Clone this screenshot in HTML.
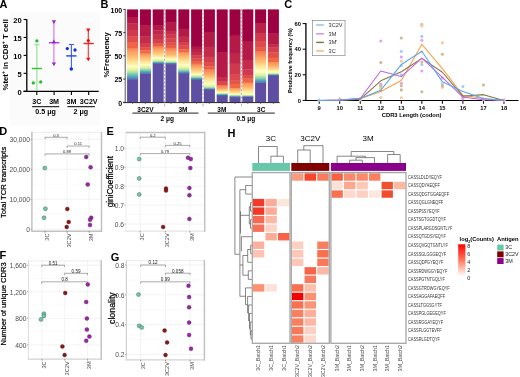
<!DOCTYPE html>
<html><head><meta charset="utf-8"><style>
html,body{margin:0;padding:0;background:#fff;overflow:hidden;width:520px;height:377px;}
svg{display:block;font-family:"Liberation Sans", sans-serif;will-change:transform;}
</style></head><body>
<svg width="520" height="377" viewBox="0 0 520 377">
<rect width="520" height="377" fill="#fff"/>
<rect x="9.70" y="12.00" width="90.20" height="113.60" fill="#fbfbfb"/>
<text x="-0.50" y="8.00" font-size="11" text-anchor="start" font-weight="bold" fill="#000">A</text>
<text x="100.50" y="8.30" font-size="11" text-anchor="start" font-weight="bold" fill="#000">B</text>
<text x="284.30" y="8.30" font-size="11" text-anchor="start" font-weight="bold" fill="#000">C</text>
<text x="-0.80" y="135.30" font-size="11" text-anchor="start" font-weight="bold" fill="#000">D</text>
<text x="106.60" y="135.40" font-size="11" text-anchor="start" font-weight="bold" fill="#000">E</text>
<text x="227.60" y="136.70" font-size="11" text-anchor="start" font-weight="bold" fill="#000">H</text>
<text x="-0.50" y="259.00" font-size="11" text-anchor="start" font-weight="bold" fill="#000">F</text>
<text x="110.80" y="261.20" font-size="11" text-anchor="start" font-weight="bold" fill="#000">G</text>
<line x1="26.80" y1="19.30" x2="26.80" y2="91.80" stroke="#000" stroke-width="1.3"/>
<line x1="23.50" y1="91.40" x2="98.70" y2="91.40" stroke="#000" stroke-width="1.3"/>
<line x1="23.60" y1="91.30" x2="26.80" y2="91.30" stroke="#000" stroke-width="1.1"/>
<text x="21.80" y="94.50" font-size="7.6" text-anchor="end" font-weight="bold" fill="#000">0</text>
<line x1="23.60" y1="73.35" x2="26.80" y2="73.35" stroke="#000" stroke-width="1.1"/>
<text x="21.80" y="76.55" font-size="7.6" text-anchor="end" font-weight="bold" fill="#000">5</text>
<line x1="23.60" y1="55.40" x2="26.80" y2="55.40" stroke="#000" stroke-width="1.1"/>
<text x="21.80" y="58.60" font-size="7.6" text-anchor="end" font-weight="bold" fill="#000">10</text>
<line x1="23.60" y1="37.45" x2="26.80" y2="37.45" stroke="#000" stroke-width="1.1"/>
<text x="21.80" y="40.65" font-size="7.6" text-anchor="end" font-weight="bold" fill="#000">15</text>
<line x1="23.60" y1="19.50" x2="26.80" y2="19.50" stroke="#000" stroke-width="1.1"/>
<text x="21.80" y="22.70" font-size="7.6" text-anchor="end" font-weight="bold" fill="#000">20</text>
<line x1="36.80" y1="91.40" x2="36.80" y2="95.00" stroke="#000" stroke-width="1.1"/>
<line x1="54.10" y1="91.40" x2="54.10" y2="95.00" stroke="#000" stroke-width="1.1"/>
<line x1="71.40" y1="91.40" x2="71.40" y2="95.00" stroke="#000" stroke-width="1.1"/>
<line x1="88.70" y1="91.40" x2="88.70" y2="95.00" stroke="#000" stroke-width="1.1"/>
<text x="36.80" y="103.80" font-size="7.1" text-anchor="middle" font-weight="bold" fill="#000">3C</text>
<text x="54.10" y="103.80" font-size="7.1" text-anchor="middle" font-weight="bold" fill="#000">3M</text>
<text x="71.40" y="103.80" font-size="7.1" text-anchor="middle" font-weight="bold" fill="#000">3M</text>
<text x="88.70" y="103.80" font-size="7.1" text-anchor="middle" font-weight="bold" fill="#000">3C2V</text>
<line x1="32.10" y1="106.70" x2="59.20" y2="106.70" stroke="#000" stroke-width="1.0"/>
<line x1="67.40" y1="106.70" x2="94.90" y2="106.70" stroke="#000" stroke-width="1.0"/>
<text x="45.60" y="114.40" font-size="7.1" text-anchor="middle" font-weight="bold" fill="#000">0.5 μg</text>
<text x="80.80" y="114.40" font-size="7.1" text-anchor="middle" font-weight="bold" fill="#000">2 μg</text>
<text transform="translate(7.6 54.8) rotate(-90)" font-size="7.8" font-weight="bold" text-anchor="middle">%tet<tspan font-size="5.2" dy="-2.6">+</tspan><tspan dy="2.6"> in CD8</tspan><tspan font-size="5.2" dy="-2.6">+</tspan><tspan dy="2.6"> T cell</tspan></text>
<line x1="36.90" y1="44.70" x2="36.90" y2="91.00" stroke="#90e090" stroke-width="1.1"/>
<line x1="34.30" y1="44.70" x2="39.60" y2="44.70" stroke="#90e090" stroke-width="1.1"/>
<line x1="31.80" y1="68.50" x2="41.90" y2="68.50" stroke="#30c030" stroke-width="1.4"/>
<circle cx="36.90" cy="40.90" r="1.65" fill="#20c020" stroke="none" stroke-width="0"/>
<circle cx="33.30" cy="82.90" r="1.65" fill="#20c020" stroke="none" stroke-width="0"/>
<circle cx="40.70" cy="81.90" r="1.65" fill="#20c020" stroke="none" stroke-width="0"/>
<line x1="53.90" y1="21.80" x2="53.90" y2="64.30" stroke="#c870f0" stroke-width="1.1"/>
<line x1="49.00" y1="42.70" x2="59.40" y2="42.70" stroke="#b040e0" stroke-width="1.4"/>
<polygon points="51.73,20.26 56.07,20.26 53.90,23.96" fill="#a020d0"/>
<polygon points="51.73,43.14 56.07,43.14 53.90,39.44" fill="#a020d0"/>
<polygon points="51.73,62.46 56.07,62.46 53.90,66.16" fill="#a020d0"/>
<line x1="71.40" y1="44.50" x2="71.40" y2="69.00" stroke="#4060f0" stroke-width="1.1"/>
<line x1="68.80" y1="44.50" x2="74.10" y2="44.50" stroke="#4060f0" stroke-width="1.1"/>
<line x1="66.20" y1="55.90" x2="76.50" y2="55.90" stroke="#2040e0" stroke-width="1.4"/>
<circle cx="67.30" cy="48.60" r="1.65" fill="#1030e0" stroke="none" stroke-width="0"/>
<circle cx="75.00" cy="50.00" r="1.65" fill="#1030e0" stroke="none" stroke-width="0"/>
<circle cx="71.30" cy="69.00" r="1.75" fill="#1030e0" stroke="none" stroke-width="0"/>
<line x1="88.30" y1="30.30" x2="88.30" y2="59.40" stroke="#f03030" stroke-width="1.1"/>
<line x1="83.60" y1="43.50" x2="93.80" y2="43.50" stroke="#f02020" stroke-width="1.4"/>
<polygon points="86.12,28.56 90.47,28.56 88.30,32.26" fill="#f01010"/>
<circle cx="88.30" cy="40.60" r="1.65" fill="#f01010" stroke="none" stroke-width="0"/>
<polygon points="86.12,57.66 90.47,57.66 88.30,61.36" fill="#f01010"/>
<rect x="127.10" y="9.40" width="11.00" height="7.95" fill="#9e0142"/>
<rect x="127.10" y="17.00" width="11.00" height="6.75" fill="#b41947"/>
<rect x="127.10" y="23.40" width="11.00" height="6.75" fill="#c42c4b"/>
<rect x="127.10" y="29.80" width="11.00" height="6.65" fill="#d0384e"/>
<rect x="127.10" y="36.10" width="11.00" height="6.25" fill="#de4c4b"/>
<rect x="127.10" y="42.00" width="11.00" height="6.55" fill="#ee6445"/>
<rect x="127.10" y="48.20" width="11.00" height="0.82" fill="#f67c4a"/>
<rect x="127.10" y="48.73" width="11.00" height="0.82" fill="#f77f4c"/>
<rect x="127.10" y="49.25" width="11.00" height="0.82" fill="#f7834d"/>
<rect x="127.10" y="49.77" width="11.00" height="0.82" fill="#f8874f"/>
<rect x="127.10" y="50.30" width="11.00" height="0.83" fill="#f88a51"/>
<rect x="127.10" y="50.83" width="11.00" height="0.82" fill="#f98e52"/>
<rect x="127.10" y="51.35" width="11.00" height="0.82" fill="#f99254"/>
<rect x="127.10" y="51.88" width="11.00" height="0.82" fill="#fa9556"/>
<rect x="127.10" y="52.40" width="11.00" height="0.84" fill="#fb9c59"/>
<rect x="127.10" y="52.94" width="11.00" height="0.84" fill="#fba05b"/>
<rect x="127.10" y="53.48" width="11.00" height="0.84" fill="#fca45c"/>
<rect x="127.10" y="54.01" width="11.00" height="0.84" fill="#fca75e"/>
<rect x="127.10" y="54.55" width="11.00" height="0.84" fill="#fdab60"/>
<rect x="127.10" y="55.09" width="11.00" height="0.84" fill="#fdae61"/>
<rect x="127.10" y="55.62" width="11.00" height="0.84" fill="#fdb164"/>
<rect x="127.10" y="56.16" width="11.00" height="0.84" fill="#fdb466"/>
<rect x="127.10" y="56.70" width="11.00" height="0.82" fill="#fdba6b"/>
<rect x="127.10" y="57.23" width="11.00" height="0.82" fill="#fdbd6e"/>
<rect x="127.10" y="57.75" width="11.00" height="0.82" fill="#fdc070"/>
<rect x="127.10" y="58.27" width="11.00" height="0.82" fill="#fdc473"/>
<rect x="127.10" y="58.80" width="11.00" height="0.83" fill="#fec776"/>
<rect x="127.10" y="59.33" width="11.00" height="0.82" fill="#fecb79"/>
<rect x="127.10" y="59.85" width="11.00" height="0.82" fill="#fece7c"/>
<rect x="127.10" y="60.38" width="11.00" height="0.82" fill="#fed17f"/>
<rect x="127.10" y="60.90" width="11.00" height="0.84" fill="#fed985"/>
<rect x="127.10" y="61.44" width="11.00" height="0.84" fill="#fede89"/>
<rect x="127.10" y="61.98" width="11.00" height="0.84" fill="#fee28e"/>
<rect x="127.10" y="62.51" width="11.00" height="0.84" fill="#fee593"/>
<rect x="127.10" y="63.05" width="11.00" height="0.84" fill="#fee898"/>
<rect x="127.10" y="63.59" width="11.00" height="0.84" fill="#feeb9e"/>
<rect x="127.10" y="64.12" width="11.00" height="0.84" fill="#feeea3"/>
<rect x="127.10" y="64.66" width="11.00" height="0.84" fill="#fff1a8"/>
<rect x="127.10" y="65.20" width="11.00" height="0.82" fill="#fff8b3"/>
<rect x="127.10" y="65.72" width="11.00" height="0.82" fill="#fffdbb"/>
<rect x="127.10" y="66.23" width="11.00" height="0.82" fill="#fdfebc"/>
<rect x="127.10" y="66.75" width="11.00" height="0.82" fill="#f9fdb6"/>
<rect x="127.10" y="67.27" width="11.00" height="0.82" fill="#f6fbb0"/>
<rect x="127.10" y="67.78" width="11.00" height="0.82" fill="#f2faab"/>
<rect x="127.10" y="68.30" width="11.00" height="0.84" fill="#ebf7a1"/>
<rect x="127.10" y="68.84" width="11.00" height="0.84" fill="#e7f69a"/>
<rect x="127.10" y="69.38" width="11.00" height="0.84" fill="#e0f299"/>
<rect x="127.10" y="69.92" width="11.00" height="0.84" fill="#d6ef9b"/>
<rect x="127.10" y="70.46" width="11.00" height="0.84" fill="#cdeb9d"/>
<rect x="127.10" y="71.00" width="11.00" height="0.82" fill="#bde4a0"/>
<rect x="127.10" y="71.52" width="11.00" height="0.82" fill="#b3e0a2"/>
<rect x="127.10" y="72.04" width="11.00" height="0.82" fill="#a8dca4"/>
<rect x="127.10" y="72.56" width="11.00" height="0.82" fill="#9bd7a4"/>
<rect x="127.10" y="73.08" width="11.00" height="0.82" fill="#8fd2a4"/>
<rect x="127.10" y="73.60" width="11.00" height="0.84" fill="#7bcaa5"/>
<rect x="127.10" y="74.14" width="11.00" height="0.84" fill="#6fc6a5"/>
<rect x="127.10" y="74.68" width="11.00" height="0.84" fill="#63bfa6"/>
<rect x="127.10" y="75.22" width="11.00" height="0.84" fill="#5ab5ab"/>
<rect x="127.10" y="75.76" width="11.00" height="0.84" fill="#51aaaf"/>
<rect x="127.10" y="76.30" width="11.00" height="0.83" fill="#449db4"/>
<rect x="127.10" y="76.83" width="11.00" height="0.82" fill="#4097b7"/>
<rect x="127.10" y="77.35" width="11.00" height="0.83" fill="#3b92b9"/>
<rect x="127.10" y="77.88" width="11.00" height="0.83" fill="#368dbb"/>
<rect x="127.10" y="78.40" width="11.00" height="1.10" fill="#466eb1"/>
<rect x="127.10" y="79.20" width="11.00" height="23.10" fill="#5e4fa2"/>
<rect x="139.90" y="9.40" width="11.00" height="16.45" fill="#9e0142"/>
<rect x="139.90" y="25.50" width="11.00" height="10.95" fill="#b41947"/>
<rect x="139.90" y="36.10" width="11.00" height="7.25" fill="#c42c4b"/>
<rect x="139.90" y="43.00" width="11.00" height="4.45" fill="#d53e4f"/>
<rect x="139.90" y="47.10" width="11.00" height="3.55" fill="#e1514a"/>
<rect x="139.90" y="50.30" width="11.00" height="3.55" fill="#f16844"/>
<rect x="139.90" y="53.50" width="11.00" height="0.83" fill="#f88a50"/>
<rect x="139.90" y="54.03" width="11.00" height="0.83" fill="#f99053"/>
<rect x="139.90" y="54.57" width="11.00" height="0.83" fill="#fa9656"/>
<rect x="139.90" y="55.10" width="11.00" height="0.83" fill="#fa9b58"/>
<rect x="139.90" y="55.63" width="11.00" height="0.83" fill="#fba15b"/>
<rect x="139.90" y="56.17" width="11.00" height="0.83" fill="#fca75e"/>
<rect x="139.90" y="56.70" width="11.00" height="0.82" fill="#fdb063"/>
<rect x="139.90" y="57.23" width="11.00" height="0.82" fill="#fdb567"/>
<rect x="139.90" y="57.75" width="11.00" height="0.82" fill="#fdb96a"/>
<rect x="139.90" y="58.27" width="11.00" height="0.82" fill="#fdbe6e"/>
<rect x="139.90" y="58.80" width="11.00" height="0.83" fill="#fdc272"/>
<rect x="139.90" y="59.33" width="11.00" height="0.82" fill="#fdc776"/>
<rect x="139.90" y="59.85" width="11.00" height="0.82" fill="#fecb7a"/>
<rect x="139.90" y="60.38" width="11.00" height="0.82" fill="#fed07d"/>
<rect x="139.90" y="60.90" width="11.00" height="0.83" fill="#feda86"/>
<rect x="139.90" y="61.43" width="11.00" height="0.83" fill="#fee18c"/>
<rect x="139.90" y="61.97" width="11.00" height="0.83" fill="#fee594"/>
<rect x="139.90" y="62.50" width="11.00" height="0.83" fill="#feea9c"/>
<rect x="139.90" y="63.03" width="11.00" height="0.83" fill="#feefa4"/>
<rect x="139.90" y="63.57" width="11.00" height="0.83" fill="#fff3ac"/>
<rect x="139.90" y="64.10" width="11.00" height="0.84" fill="#fffcba"/>
<rect x="139.90" y="64.64" width="11.00" height="0.84" fill="#fcfeba"/>
<rect x="139.90" y="65.18" width="11.00" height="0.84" fill="#f6fcb2"/>
<rect x="139.90" y="65.72" width="11.00" height="0.84" fill="#f1f9a9"/>
<rect x="139.90" y="66.26" width="11.00" height="0.84" fill="#ecf7a1"/>
<rect x="139.90" y="66.80" width="11.00" height="0.83" fill="#dff299"/>
<rect x="139.90" y="67.33" width="11.00" height="0.82" fill="#d2ed9c"/>
<rect x="139.90" y="67.85" width="11.00" height="0.83" fill="#c5e89f"/>
<rect x="139.90" y="68.38" width="11.00" height="0.83" fill="#b8e2a1"/>
<rect x="139.90" y="68.90" width="11.00" height="0.83" fill="#a2d9a4"/>
<rect x="139.90" y="69.43" width="11.00" height="0.82" fill="#8fd2a4"/>
<rect x="139.90" y="69.95" width="11.00" height="0.82" fill="#7ccba5"/>
<rect x="139.90" y="70.47" width="11.00" height="0.83" fill="#6ac3a5"/>
<rect x="139.90" y="71.00" width="11.00" height="0.90" fill="#55afad"/>
<rect x="139.90" y="71.60" width="11.00" height="0.90" fill="#49a2b2"/>
<rect x="139.90" y="72.20" width="11.00" height="0.90" fill="#3c94b8"/>
<rect x="139.90" y="72.80" width="11.00" height="0.90" fill="#3c7bb7"/>
<rect x="139.90" y="73.40" width="11.00" height="0.90" fill="#5062ab"/>
<rect x="139.90" y="74.00" width="11.00" height="28.30" fill="#5e4fa2"/>
<rect x="152.70" y="9.40" width="11.00" height="15.95" fill="#9e0142"/>
<rect x="152.70" y="25.00" width="11.00" height="5.65" fill="#b41947"/>
<rect x="152.70" y="30.30" width="11.00" height="4.55" fill="#bf264a"/>
<rect x="152.70" y="34.50" width="11.00" height="4.65" fill="#ca324c"/>
<rect x="152.70" y="38.80" width="11.00" height="4.55" fill="#d53e4f"/>
<rect x="152.70" y="43.00" width="11.00" height="3.55" fill="#e85a48"/>
<rect x="152.70" y="46.20" width="11.00" height="0.80" fill="#f57145"/>
<rect x="152.70" y="46.70" width="11.00" height="0.80" fill="#f67848"/>
<rect x="152.70" y="47.20" width="11.00" height="0.80" fill="#f77f4b"/>
<rect x="152.70" y="47.70" width="11.00" height="0.80" fill="#f8874f"/>
<rect x="152.70" y="48.20" width="11.00" height="0.83" fill="#f99053"/>
<rect x="152.70" y="48.73" width="11.00" height="0.83" fill="#fa9555"/>
<rect x="152.70" y="49.27" width="11.00" height="0.83" fill="#fa9a58"/>
<rect x="152.70" y="49.80" width="11.00" height="0.83" fill="#fb9f5a"/>
<rect x="152.70" y="50.33" width="11.00" height="0.83" fill="#fca35c"/>
<rect x="152.70" y="50.87" width="11.00" height="0.83" fill="#fca85e"/>
<rect x="152.70" y="51.40" width="11.00" height="0.82" fill="#fdb163"/>
<rect x="152.70" y="51.92" width="11.00" height="0.82" fill="#fdb668"/>
<rect x="152.70" y="52.43" width="11.00" height="0.82" fill="#fdbb6c"/>
<rect x="152.70" y="52.95" width="11.00" height="0.82" fill="#fdc070"/>
<rect x="152.70" y="53.47" width="11.00" height="0.82" fill="#fdc675"/>
<rect x="152.70" y="53.98" width="11.00" height="0.82" fill="#fecb79"/>
<rect x="152.70" y="54.50" width="11.00" height="0.84" fill="#fed682"/>
<rect x="152.70" y="55.04" width="11.00" height="0.84" fill="#fede8a"/>
<rect x="152.70" y="55.58" width="11.00" height="0.84" fill="#fee593"/>
<rect x="152.70" y="56.12" width="11.00" height="0.84" fill="#feea9c"/>
<rect x="152.70" y="56.66" width="11.00" height="0.84" fill="#fff0a6"/>
<rect x="152.70" y="57.20" width="11.00" height="0.84" fill="#fff9b5"/>
<rect x="152.70" y="57.74" width="11.00" height="0.84" fill="#fefebd"/>
<rect x="152.70" y="58.28" width="11.00" height="0.84" fill="#f8fcb4"/>
<rect x="152.70" y="58.82" width="11.00" height="0.84" fill="#f2faab"/>
<rect x="152.70" y="59.36" width="11.00" height="0.84" fill="#ecf7a2"/>
<rect x="152.70" y="59.90" width="11.00" height="0.80" fill="#ddf19a"/>
<rect x="152.70" y="60.40" width="11.00" height="0.80" fill="#cbea9d"/>
<rect x="152.70" y="60.90" width="11.00" height="0.80" fill="#bae3a1"/>
<rect x="152.70" y="61.40" width="11.00" height="0.85" fill="#92d3a4"/>
<rect x="152.70" y="61.95" width="11.00" height="0.85" fill="#62bda7"/>
<rect x="152.70" y="62.50" width="11.00" height="0.95" fill="#368dbb"/>
<rect x="152.70" y="63.15" width="11.00" height="0.95" fill="#4a69ae"/>
<rect x="152.70" y="63.80" width="11.00" height="38.50" fill="#5e4fa2"/>
<rect x="165.50" y="9.40" width="11.00" height="12.75" fill="#9e0142"/>
<rect x="165.50" y="21.80" width="11.00" height="9.35" fill="#b41947"/>
<rect x="165.50" y="30.80" width="11.00" height="4.05" fill="#c42c4b"/>
<rect x="165.50" y="34.50" width="11.00" height="4.05" fill="#d0384e"/>
<rect x="165.50" y="38.20" width="11.00" height="4.65" fill="#d8434e"/>
<rect x="165.50" y="42.50" width="11.00" height="2.95" fill="#e1514a"/>
<rect x="165.50" y="45.10" width="11.00" height="2.95" fill="#e85a48"/>
<rect x="165.50" y="47.70" width="11.00" height="0.82" fill="#f46f44"/>
<rect x="165.50" y="48.22" width="11.00" height="0.82" fill="#f57446"/>
<rect x="165.50" y="48.73" width="11.00" height="0.82" fill="#f67949"/>
<rect x="165.50" y="49.25" width="11.00" height="0.82" fill="#f67e4b"/>
<rect x="165.50" y="49.77" width="11.00" height="0.82" fill="#f7834d"/>
<rect x="165.50" y="50.28" width="11.00" height="0.82" fill="#f8884f"/>
<rect x="165.50" y="50.80" width="11.00" height="0.83" fill="#f99053"/>
<rect x="165.50" y="51.33" width="11.00" height="0.83" fill="#fa9555"/>
<rect x="165.50" y="51.87" width="11.00" height="0.83" fill="#fa9a58"/>
<rect x="165.50" y="52.40" width="11.00" height="0.83" fill="#fb9f5a"/>
<rect x="165.50" y="52.93" width="11.00" height="0.83" fill="#fca35c"/>
<rect x="165.50" y="53.47" width="11.00" height="0.83" fill="#fca85e"/>
<rect x="165.50" y="54.00" width="11.00" height="0.84" fill="#fdb164"/>
<rect x="165.50" y="54.54" width="11.00" height="0.84" fill="#fdb769"/>
<rect x="165.50" y="55.08" width="11.00" height="0.84" fill="#fdbe6e"/>
<rect x="165.50" y="55.62" width="11.00" height="0.84" fill="#fdc474"/>
<rect x="165.50" y="56.16" width="11.00" height="0.84" fill="#feca79"/>
<rect x="165.50" y="56.70" width="11.00" height="0.82" fill="#fed783"/>
<rect x="165.50" y="57.23" width="11.00" height="0.82" fill="#fee18d"/>
<rect x="165.50" y="57.75" width="11.00" height="0.82" fill="#fee899"/>
<rect x="165.50" y="58.27" width="11.00" height="0.82" fill="#feefa4"/>
<rect x="165.50" y="58.80" width="11.00" height="0.82" fill="#fffab7"/>
<rect x="165.50" y="59.32" width="11.00" height="0.82" fill="#fcfeba"/>
<rect x="165.50" y="59.85" width="11.00" height="0.83" fill="#f4fbae"/>
<rect x="165.50" y="60.38" width="11.00" height="0.82" fill="#edf8a3"/>
<rect x="165.50" y="60.90" width="11.00" height="0.95" fill="#d9f09b"/>
<rect x="165.50" y="61.55" width="11.00" height="0.95" fill="#bee5a0"/>
<rect x="165.50" y="62.20" width="11.00" height="1.10" fill="#79caa5"/>
<rect x="165.50" y="63.00" width="11.00" height="0.85" fill="#368dbb"/>
<rect x="165.50" y="63.55" width="11.00" height="0.85" fill="#4a69ae"/>
<rect x="165.50" y="64.10" width="11.00" height="38.20" fill="#5e4fa2"/>
<rect x="178.30" y="9.40" width="11.00" height="19.65" fill="#9e0142"/>
<rect x="178.30" y="28.70" width="11.00" height="8.25" fill="#b41947"/>
<rect x="178.30" y="36.60" width="11.00" height="5.75" fill="#c42c4b"/>
<rect x="178.30" y="42.00" width="11.00" height="3.45" fill="#d53e4f"/>
<rect x="178.30" y="45.10" width="11.00" height="4.45" fill="#de4c4b"/>
<rect x="178.30" y="49.20" width="11.00" height="3.55" fill="#f16844"/>
<rect x="178.30" y="52.40" width="11.00" height="0.83" fill="#f88a50"/>
<rect x="178.30" y="52.93" width="11.00" height="0.83" fill="#f99053"/>
<rect x="178.30" y="53.47" width="11.00" height="0.83" fill="#fa9656"/>
<rect x="178.30" y="54.00" width="11.00" height="0.83" fill="#fa9b58"/>
<rect x="178.30" y="54.53" width="11.00" height="0.83" fill="#fba15b"/>
<rect x="178.30" y="55.07" width="11.00" height="0.83" fill="#fca75e"/>
<rect x="178.30" y="55.60" width="11.00" height="0.84" fill="#fdb063"/>
<rect x="178.30" y="56.14" width="11.00" height="0.84" fill="#fdb567"/>
<rect x="178.30" y="56.67" width="11.00" height="0.84" fill="#fdb96a"/>
<rect x="178.30" y="57.21" width="11.00" height="0.84" fill="#fdbe6e"/>
<rect x="178.30" y="57.75" width="11.00" height="0.84" fill="#fdc272"/>
<rect x="178.30" y="58.29" width="11.00" height="0.84" fill="#fdc776"/>
<rect x="178.30" y="58.83" width="11.00" height="0.84" fill="#fecb7a"/>
<rect x="178.30" y="59.36" width="11.00" height="0.84" fill="#fed07d"/>
<rect x="178.30" y="59.90" width="11.00" height="0.82" fill="#fed985"/>
<rect x="178.30" y="60.42" width="11.00" height="0.82" fill="#fede8a"/>
<rect x="178.30" y="60.95" width="11.00" height="0.82" fill="#fee38f"/>
<rect x="178.30" y="61.47" width="11.00" height="0.83" fill="#fee695"/>
<rect x="178.30" y="62.00" width="11.00" height="0.82" fill="#fee99b"/>
<rect x="178.30" y="62.52" width="11.00" height="0.82" fill="#feeda1"/>
<rect x="178.30" y="63.05" width="11.00" height="0.82" fill="#fff0a7"/>
<rect x="178.30" y="63.57" width="11.00" height="0.82" fill="#fff4ac"/>
<rect x="178.30" y="64.10" width="11.00" height="0.83" fill="#fffcb9"/>
<rect x="178.30" y="64.63" width="11.00" height="0.83" fill="#fdfebc"/>
<rect x="178.30" y="65.17" width="11.00" height="0.83" fill="#f9fcb5"/>
<rect x="178.30" y="65.70" width="11.00" height="0.83" fill="#f4fbae"/>
<rect x="178.30" y="66.23" width="11.00" height="0.83" fill="#f0f9a7"/>
<rect x="178.30" y="66.77" width="11.00" height="0.83" fill="#ebf7a0"/>
<rect x="178.30" y="67.30" width="11.00" height="0.88" fill="#dff299"/>
<rect x="178.30" y="67.88" width="11.00" height="0.87" fill="#d2ed9c"/>
<rect x="178.30" y="68.45" width="11.00" height="0.88" fill="#c5e89f"/>
<rect x="178.30" y="69.02" width="11.00" height="0.88" fill="#b8e2a1"/>
<rect x="178.30" y="69.60" width="11.00" height="0.87" fill="#9fd8a4"/>
<rect x="178.30" y="70.17" width="11.00" height="0.87" fill="#86cea5"/>
<rect x="178.30" y="70.73" width="11.00" height="0.87" fill="#6dc5a5"/>
<rect x="178.30" y="71.30" width="11.00" height="0.85" fill="#52acae"/>
<rect x="178.30" y="71.85" width="11.00" height="0.85" fill="#4097b7"/>
<rect x="178.30" y="72.40" width="11.00" height="0.80" fill="#3c7bb7"/>
<rect x="178.30" y="72.90" width="11.00" height="0.80" fill="#5062ab"/>
<rect x="178.30" y="73.40" width="11.00" height="28.90" fill="#5e4fa2"/>
<rect x="191.10" y="9.40" width="11.00" height="37.55" fill="#9e0142"/>
<rect x="191.10" y="46.60" width="11.00" height="2.45" fill="#ae1346"/>
<rect x="191.10" y="48.70" width="11.00" height="3.55" fill="#ba2048"/>
<rect x="191.10" y="51.90" width="11.00" height="3.55" fill="#c42c4b"/>
<rect x="191.10" y="55.10" width="11.00" height="3.55" fill="#d53e4f"/>
<rect x="191.10" y="58.30" width="11.00" height="2.95" fill="#de4c4b"/>
<rect x="191.10" y="60.90" width="11.00" height="3.05" fill="#eb5f47"/>
<rect x="191.10" y="63.60" width="11.00" height="0.82" fill="#f57647"/>
<rect x="191.10" y="64.12" width="11.00" height="0.82" fill="#f67c4a"/>
<rect x="191.10" y="64.64" width="11.00" height="0.82" fill="#f7824d"/>
<rect x="191.10" y="65.16" width="11.00" height="0.82" fill="#f8884f"/>
<rect x="191.10" y="65.68" width="11.00" height="0.82" fill="#f98e52"/>
<rect x="191.10" y="66.20" width="11.00" height="0.84" fill="#fa9857"/>
<rect x="191.10" y="66.74" width="11.00" height="0.84" fill="#fb9f5a"/>
<rect x="191.10" y="67.28" width="11.00" height="0.84" fill="#fca65d"/>
<rect x="191.10" y="67.82" width="11.00" height="0.84" fill="#fdad60"/>
<rect x="191.10" y="68.36" width="11.00" height="0.84" fill="#fdb265"/>
<rect x="191.10" y="68.90" width="11.00" height="0.82" fill="#fdbb6c"/>
<rect x="191.10" y="69.42" width="11.00" height="0.82" fill="#fdc070"/>
<rect x="191.10" y="69.94" width="11.00" height="0.82" fill="#fdc675"/>
<rect x="191.10" y="70.46" width="11.00" height="0.82" fill="#fecb79"/>
<rect x="191.10" y="70.98" width="11.00" height="0.82" fill="#fed07e"/>
<rect x="191.10" y="71.50" width="11.00" height="0.90" fill="#fedb87"/>
<rect x="191.10" y="72.10" width="11.00" height="0.90" fill="#fee390"/>
<rect x="191.10" y="72.70" width="11.00" height="0.90" fill="#fee99b"/>
<rect x="191.10" y="73.30" width="11.00" height="0.90" fill="#fff0a5"/>
<rect x="191.10" y="73.90" width="11.00" height="0.93" fill="#fffdbb"/>
<rect x="191.10" y="74.53" width="11.00" height="0.93" fill="#f6fbb0"/>
<rect x="191.10" y="75.17" width="11.00" height="0.93" fill="#eaf79f"/>
<rect x="191.10" y="75.80" width="11.00" height="0.83" fill="#ceeb9d"/>
<rect x="191.10" y="76.33" width="11.00" height="0.83" fill="#b5e1a2"/>
<rect x="191.10" y="76.87" width="11.00" height="0.83" fill="#9ad6a4"/>
<rect x="191.10" y="77.40" width="11.00" height="0.95" fill="#71c6a5"/>
<rect x="191.10" y="78.05" width="11.00" height="0.95" fill="#54aead"/>
<rect x="191.10" y="78.70" width="11.00" height="0.85" fill="#3288bd"/>
<rect x="191.10" y="79.25" width="11.00" height="0.85" fill="#4b67ad"/>
<rect x="191.10" y="79.80" width="11.00" height="22.50" fill="#5e4fa2"/>
<rect x="203.90" y="9.40" width="11.00" height="22.85" fill="#9e0142"/>
<rect x="203.90" y="31.90" width="11.00" height="15.15" fill="#b41947"/>
<rect x="203.90" y="46.70" width="11.00" height="10.35" fill="#c42c4b"/>
<rect x="203.90" y="56.70" width="11.00" height="5.65" fill="#d53e4f"/>
<rect x="203.90" y="62.00" width="11.00" height="4.55" fill="#de4c4b"/>
<rect x="203.90" y="66.20" width="11.00" height="3.55" fill="#eb5f47"/>
<rect x="203.90" y="69.40" width="11.00" height="0.83" fill="#f57647"/>
<rect x="203.90" y="69.93" width="11.00" height="0.83" fill="#f67b49"/>
<rect x="203.90" y="70.47" width="11.00" height="0.83" fill="#f7804c"/>
<rect x="203.90" y="71.00" width="11.00" height="0.83" fill="#f7854e"/>
<rect x="203.90" y="71.53" width="11.00" height="0.83" fill="#f88950"/>
<rect x="203.90" y="72.07" width="11.00" height="0.83" fill="#f98e52"/>
<rect x="203.90" y="72.60" width="11.00" height="0.83" fill="#fa9656"/>
<rect x="203.90" y="73.13" width="11.00" height="0.83" fill="#fa9a58"/>
<rect x="203.90" y="73.67" width="11.00" height="0.83" fill="#fb9e5a"/>
<rect x="203.90" y="74.20" width="11.00" height="0.83" fill="#fba25b"/>
<rect x="203.90" y="74.73" width="11.00" height="0.83" fill="#fca65d"/>
<rect x="203.90" y="75.27" width="11.00" height="0.83" fill="#fca95f"/>
<rect x="203.90" y="75.80" width="11.00" height="0.84" fill="#fdb264"/>
<rect x="203.90" y="76.34" width="11.00" height="0.84" fill="#fdb96a"/>
<rect x="203.90" y="76.88" width="11.00" height="0.84" fill="#fdc070"/>
<rect x="203.90" y="77.42" width="11.00" height="0.84" fill="#fec776"/>
<rect x="203.90" y="77.96" width="11.00" height="0.84" fill="#fece7c"/>
<rect x="203.90" y="78.50" width="11.00" height="0.86" fill="#fed985"/>
<rect x="203.90" y="79.06" width="11.00" height="0.86" fill="#fedf8a"/>
<rect x="203.90" y="79.61" width="11.00" height="0.86" fill="#fee390"/>
<rect x="203.90" y="80.17" width="11.00" height="0.86" fill="#fee696"/>
<rect x="203.90" y="80.73" width="11.00" height="0.86" fill="#feea9c"/>
<rect x="203.90" y="81.29" width="11.00" height="0.86" fill="#feeea2"/>
<rect x="203.90" y="81.84" width="11.00" height="0.86" fill="#fff1a8"/>
<rect x="203.90" y="82.40" width="11.00" height="0.87" fill="#fff9b4"/>
<rect x="203.90" y="82.97" width="11.00" height="0.87" fill="#ffffbf"/>
<rect x="203.90" y="83.53" width="11.00" height="0.87" fill="#fafdb8"/>
<rect x="203.90" y="84.10" width="11.00" height="0.87" fill="#f5fbb0"/>
<rect x="203.90" y="84.67" width="11.00" height="0.87" fill="#f1f9a8"/>
<rect x="203.90" y="85.23" width="11.00" height="0.87" fill="#ecf7a1"/>
<rect x="203.90" y="85.80" width="11.00" height="0.90" fill="#ddf19a"/>
<rect x="203.90" y="86.40" width="11.00" height="0.90" fill="#cbea9d"/>
<rect x="203.90" y="87.00" width="11.00" height="0.90" fill="#bae3a1"/>
<rect x="203.90" y="87.60" width="11.00" height="1.20" fill="#79caa5"/>
<rect x="203.90" y="88.50" width="11.00" height="0.85" fill="#368dbb"/>
<rect x="203.90" y="89.05" width="11.00" height="0.85" fill="#4a69ae"/>
<rect x="203.90" y="89.60" width="11.00" height="12.70" fill="#5e4fa2"/>
<rect x="216.70" y="9.40" width="11.00" height="42.85" fill="#9e0142"/>
<rect x="216.70" y="51.90" width="11.00" height="25.45" fill="#b41947"/>
<rect x="216.70" y="77.00" width="11.00" height="4.35" fill="#c42c4b"/>
<rect x="216.70" y="81.00" width="11.00" height="4.65" fill="#db474d"/>
<rect x="216.70" y="85.30" width="11.00" height="0.84" fill="#f47145"/>
<rect x="216.70" y="85.84" width="11.00" height="0.84" fill="#f57848"/>
<rect x="216.70" y="86.38" width="11.00" height="0.84" fill="#f67f4b"/>
<rect x="216.70" y="86.92" width="11.00" height="0.84" fill="#f7864e"/>
<rect x="216.70" y="87.46" width="11.00" height="0.84" fill="#f88d52"/>
<rect x="216.70" y="88.00" width="11.00" height="0.84" fill="#fa9a58"/>
<rect x="216.70" y="88.54" width="11.00" height="0.84" fill="#fca75e"/>
<rect x="216.70" y="89.08" width="11.00" height="0.84" fill="#fdb365"/>
<rect x="216.70" y="89.62" width="11.00" height="0.84" fill="#fdbd6d"/>
<rect x="216.70" y="90.16" width="11.00" height="0.84" fill="#fdc776"/>
<rect x="216.70" y="90.70" width="11.00" height="0.88" fill="#fedb87"/>
<rect x="216.70" y="91.28" width="11.00" height="0.87" fill="#feea9b"/>
<rect x="216.70" y="91.85" width="11.00" height="0.88" fill="#fff6b0"/>
<rect x="216.70" y="92.42" width="11.00" height="0.88" fill="#fcfeba"/>
<rect x="216.70" y="93.00" width="11.00" height="0.85" fill="#e5f598"/>
<rect x="216.70" y="93.55" width="11.00" height="0.85" fill="#a7dca4"/>
<rect x="216.70" y="94.10" width="11.00" height="1.20" fill="#54aead"/>
<rect x="216.70" y="95.00" width="11.00" height="1.20" fill="#466eb1"/>
<rect x="216.70" y="95.90" width="11.00" height="6.40" fill="#5e4fa2"/>
<rect x="229.50" y="9.40" width="11.00" height="26.55" fill="#9e0142"/>
<rect x="229.50" y="35.60" width="11.00" height="17.75" fill="#b41947"/>
<rect x="229.50" y="53.00" width="11.00" height="10.95" fill="#bf264a"/>
<rect x="229.50" y="63.60" width="11.00" height="11.25" fill="#d0384e"/>
<rect x="229.50" y="74.50" width="11.00" height="6.35" fill="#db474d"/>
<rect x="229.50" y="80.50" width="11.00" height="3.85" fill="#e45649"/>
<rect x="229.50" y="84.00" width="11.00" height="4.35" fill="#f16844"/>
<rect x="229.50" y="88.00" width="11.00" height="0.84" fill="#f99254"/>
<rect x="229.50" y="88.54" width="11.00" height="0.84" fill="#fa9a58"/>
<rect x="229.50" y="89.08" width="11.00" height="0.84" fill="#fba25b"/>
<rect x="229.50" y="89.62" width="11.00" height="0.84" fill="#fcaa5f"/>
<rect x="229.50" y="90.16" width="11.00" height="0.84" fill="#fdb164"/>
<rect x="229.50" y="90.70" width="11.00" height="0.84" fill="#fdbc6d"/>
<rect x="229.50" y="91.24" width="11.00" height="0.84" fill="#fdc675"/>
<rect x="229.50" y="91.78" width="11.00" height="0.84" fill="#fece7c"/>
<rect x="229.50" y="92.32" width="11.00" height="0.84" fill="#fed884"/>
<rect x="229.50" y="92.86" width="11.00" height="0.84" fill="#fee08c"/>
<rect x="229.50" y="93.40" width="11.00" height="0.80" fill="#feefa3"/>
<rect x="229.50" y="93.90" width="11.00" height="0.80" fill="#ffffbf"/>
<rect x="229.50" y="94.40" width="11.00" height="0.80" fill="#f1faaa"/>
<rect x="229.50" y="94.90" width="11.00" height="0.80" fill="#e1f399"/>
<rect x="229.50" y="95.40" width="11.00" height="1.20" fill="#85cea5"/>
<rect x="229.50" y="96.30" width="11.00" height="1.10" fill="#3f78b5"/>
<rect x="229.50" y="97.10" width="11.00" height="5.20" fill="#5e4fa2"/>
<rect x="242.30" y="9.40" width="11.00" height="31.85" fill="#9e0142"/>
<rect x="242.30" y="40.90" width="11.00" height="19.35" fill="#b41947"/>
<rect x="242.30" y="59.90" width="11.00" height="9.85" fill="#c42c4b"/>
<rect x="242.30" y="69.40" width="11.00" height="5.65" fill="#d0384e"/>
<rect x="242.30" y="74.70" width="11.00" height="4.15" fill="#de4c4b"/>
<rect x="242.30" y="78.50" width="11.00" height="4.45" fill="#ee6445"/>
<rect x="242.30" y="82.60" width="11.00" height="0.80" fill="#f88950"/>
<rect x="242.30" y="83.10" width="11.00" height="0.80" fill="#f98e52"/>
<rect x="242.30" y="83.60" width="11.00" height="0.80" fill="#f99254"/>
<rect x="242.30" y="84.10" width="11.00" height="0.80" fill="#fa9756"/>
<rect x="242.30" y="84.60" width="11.00" height="0.80" fill="#fa9b58"/>
<rect x="242.30" y="85.10" width="11.00" height="0.80" fill="#fba05b"/>
<rect x="242.30" y="85.60" width="11.00" height="0.80" fill="#fca55d"/>
<rect x="242.30" y="86.10" width="11.00" height="0.80" fill="#fca95f"/>
<rect x="242.30" y="86.60" width="11.00" height="0.80" fill="#fdae61"/>
<rect x="242.30" y="87.10" width="11.00" height="0.81" fill="#fdb668"/>
<rect x="242.30" y="87.61" width="11.00" height="0.81" fill="#fdbc6c"/>
<rect x="242.30" y="88.13" width="11.00" height="0.81" fill="#fdc171"/>
<rect x="242.30" y="88.64" width="11.00" height="0.81" fill="#fec776"/>
<rect x="242.30" y="89.16" width="11.00" height="0.81" fill="#fecd7b"/>
<rect x="242.30" y="89.67" width="11.00" height="0.81" fill="#fed380"/>
<rect x="242.30" y="90.19" width="11.00" height="0.81" fill="#fed985"/>
<rect x="242.30" y="90.70" width="11.00" height="0.83" fill="#fee28e"/>
<rect x="242.30" y="91.23" width="11.00" height="0.83" fill="#fee694"/>
<rect x="242.30" y="91.77" width="11.00" height="0.83" fill="#fee99b"/>
<rect x="242.30" y="92.30" width="11.00" height="0.83" fill="#feeda1"/>
<rect x="242.30" y="92.83" width="11.00" height="0.83" fill="#fff1a7"/>
<rect x="242.30" y="93.37" width="11.00" height="0.83" fill="#fff4ad"/>
<rect x="242.30" y="93.90" width="11.00" height="0.90" fill="#fcfeba"/>
<rect x="242.30" y="94.50" width="11.00" height="0.90" fill="#ebf7a0"/>
<rect x="242.30" y="95.10" width="11.00" height="0.90" fill="#cbea9d"/>
<rect x="242.30" y="95.70" width="11.00" height="0.90" fill="#73c7a5"/>
<rect x="242.30" y="96.30" width="11.00" height="1.00" fill="#4175b4"/>
<rect x="242.30" y="97.00" width="11.00" height="5.30" fill="#5e4fa2"/>
<rect x="255.10" y="9.40" width="11.00" height="13.85" fill="#9e0142"/>
<rect x="255.10" y="22.90" width="11.00" height="10.35" fill="#ba2048"/>
<rect x="255.10" y="32.90" width="11.00" height="8.35" fill="#d0384e"/>
<rect x="255.10" y="40.90" width="11.00" height="6.95" fill="#de4c4b"/>
<rect x="255.10" y="47.50" width="11.00" height="4.25" fill="#e85a48"/>
<rect x="255.10" y="51.40" width="11.00" height="0.82" fill="#f46f44"/>
<rect x="255.10" y="51.92" width="11.00" height="0.83" fill="#f57246"/>
<rect x="255.10" y="52.45" width="11.00" height="0.82" fill="#f57647"/>
<rect x="255.10" y="52.98" width="11.00" height="0.82" fill="#f67a49"/>
<rect x="255.10" y="53.50" width="11.00" height="0.82" fill="#f67d4b"/>
<rect x="255.10" y="54.02" width="11.00" height="0.82" fill="#f7814c"/>
<rect x="255.10" y="54.55" width="11.00" height="0.83" fill="#f7854e"/>
<rect x="255.10" y="55.08" width="11.00" height="0.82" fill="#f88850"/>
<rect x="255.10" y="55.60" width="11.00" height="0.84" fill="#f98f53"/>
<rect x="255.10" y="56.14" width="11.00" height="0.84" fill="#f99355"/>
<rect x="255.10" y="56.67" width="11.00" height="0.84" fill="#fa9756"/>
<rect x="255.10" y="57.21" width="11.00" height="0.84" fill="#fa9a58"/>
<rect x="255.10" y="57.75" width="11.00" height="0.84" fill="#fb9e5a"/>
<rect x="255.10" y="58.29" width="11.00" height="0.84" fill="#fba25b"/>
<rect x="255.10" y="58.83" width="11.00" height="0.84" fill="#fca55d"/>
<rect x="255.10" y="59.36" width="11.00" height="0.84" fill="#fca95f"/>
<rect x="255.10" y="59.90" width="11.00" height="0.82" fill="#fdb063"/>
<rect x="255.10" y="60.42" width="11.00" height="0.82" fill="#fdb466"/>
<rect x="255.10" y="60.95" width="11.00" height="0.82" fill="#fdb869"/>
<rect x="255.10" y="61.47" width="11.00" height="0.83" fill="#fdbc6d"/>
<rect x="255.10" y="62.00" width="11.00" height="0.82" fill="#fdc070"/>
<rect x="255.10" y="62.52" width="11.00" height="0.82" fill="#fdc473"/>
<rect x="255.10" y="63.05" width="11.00" height="0.82" fill="#fec876"/>
<rect x="255.10" y="63.57" width="11.00" height="0.82" fill="#fecc7a"/>
<rect x="255.10" y="64.10" width="11.00" height="0.83" fill="#fed380"/>
<rect x="255.10" y="64.62" width="11.00" height="0.82" fill="#fed884"/>
<rect x="255.10" y="65.15" width="11.00" height="0.83" fill="#fedc88"/>
<rect x="255.10" y="65.67" width="11.00" height="0.82" fill="#fee08c"/>
<rect x="255.10" y="66.20" width="11.00" height="0.83" fill="#fee390"/>
<rect x="255.10" y="66.72" width="11.00" height="0.83" fill="#fee695"/>
<rect x="255.10" y="67.25" width="11.00" height="0.82" fill="#fee99a"/>
<rect x="255.10" y="67.77" width="11.00" height="0.83" fill="#feec9e"/>
<rect x="255.10" y="68.30" width="11.00" height="0.83" fill="#fff1a8"/>
<rect x="255.10" y="68.83" width="11.00" height="0.83" fill="#fff4ad"/>
<rect x="255.10" y="69.37" width="11.00" height="0.83" fill="#fff7b2"/>
<rect x="255.10" y="69.90" width="11.00" height="0.83" fill="#fffab7"/>
<rect x="255.10" y="70.43" width="11.00" height="0.83" fill="#fffdbc"/>
<rect x="255.10" y="70.97" width="11.00" height="0.83" fill="#fefebd"/>
<rect x="255.10" y="71.50" width="11.00" height="0.83" fill="#fbfeb9"/>
<rect x="255.10" y="72.03" width="11.00" height="0.83" fill="#f9fcb5"/>
<rect x="255.10" y="72.57" width="11.00" height="0.83" fill="#f6fcb1"/>
<rect x="255.10" y="73.10" width="11.00" height="0.83" fill="#f0f9a8"/>
<rect x="255.10" y="73.63" width="11.00" height="0.83" fill="#ebf7a0"/>
<rect x="255.10" y="74.17" width="11.00" height="0.83" fill="#e6f598"/>
<rect x="255.10" y="74.70" width="11.00" height="0.83" fill="#dbf19a"/>
<rect x="255.10" y="75.23" width="11.00" height="0.83" fill="#d0ec9d"/>
<rect x="255.10" y="75.77" width="11.00" height="0.83" fill="#c4e79f"/>
<rect x="255.10" y="76.30" width="11.00" height="0.84" fill="#b0dfa3"/>
<rect x="255.10" y="76.84" width="11.00" height="0.84" fill="#a2daa4"/>
<rect x="255.10" y="77.38" width="11.00" height="0.84" fill="#94d4a4"/>
<rect x="255.10" y="77.92" width="11.00" height="0.84" fill="#85cea5"/>
<rect x="255.10" y="78.46" width="11.00" height="0.84" fill="#76c8a5"/>
<rect x="255.10" y="79.00" width="11.00" height="0.82" fill="#61bda7"/>
<rect x="255.10" y="79.52" width="11.00" height="0.82" fill="#58b2ab"/>
<rect x="255.10" y="80.04" width="11.00" height="0.82" fill="#4fa8b0"/>
<rect x="255.10" y="80.56" width="11.00" height="0.82" fill="#459db4"/>
<rect x="255.10" y="81.08" width="11.00" height="0.82" fill="#3c93b8"/>
<rect x="255.10" y="81.60" width="11.00" height="1.00" fill="#3c7bb7"/>
<rect x="255.10" y="82.30" width="11.00" height="1.00" fill="#5062ab"/>
<rect x="255.10" y="83.00" width="11.00" height="19.30" fill="#5e4fa2"/>
<rect x="267.90" y="9.40" width="11.00" height="24.45" fill="#9e0142"/>
<rect x="267.90" y="33.50" width="11.00" height="10.95" fill="#b41947"/>
<rect x="267.90" y="44.10" width="11.00" height="3.35" fill="#c42c4b"/>
<rect x="267.90" y="47.10" width="11.00" height="5.65" fill="#d53e4f"/>
<rect x="267.90" y="52.40" width="11.00" height="5.65" fill="#e1514a"/>
<rect x="267.90" y="57.70" width="11.00" height="4.65" fill="#f16844"/>
<rect x="267.90" y="62.00" width="11.00" height="0.82" fill="#f88950"/>
<rect x="267.90" y="62.52" width="11.00" height="0.82" fill="#f98e52"/>
<rect x="267.90" y="63.05" width="11.00" height="0.83" fill="#f99254"/>
<rect x="267.90" y="63.58" width="11.00" height="0.82" fill="#fa9656"/>
<rect x="267.90" y="64.10" width="11.00" height="0.83" fill="#fa9b58"/>
<rect x="267.90" y="64.62" width="11.00" height="0.83" fill="#fb9f5a"/>
<rect x="267.90" y="65.15" width="11.00" height="0.82" fill="#fca45c"/>
<rect x="267.90" y="65.67" width="11.00" height="0.83" fill="#fca85e"/>
<rect x="267.90" y="66.20" width="11.00" height="0.83" fill="#fdb164"/>
<rect x="267.90" y="66.73" width="11.00" height="0.83" fill="#fdb869"/>
<rect x="267.90" y="67.26" width="11.00" height="0.83" fill="#fdbe6e"/>
<rect x="267.90" y="67.79" width="11.00" height="0.83" fill="#fdc474"/>
<rect x="267.90" y="68.31" width="11.00" height="0.83" fill="#fecb79"/>
<rect x="267.90" y="68.84" width="11.00" height="0.83" fill="#fed17f"/>
<rect x="267.90" y="69.37" width="11.00" height="0.83" fill="#fed884"/>
<rect x="267.90" y="69.90" width="11.00" height="0.88" fill="#fee492"/>
<rect x="267.90" y="70.48" width="11.00" height="0.88" fill="#feeda0"/>
<rect x="267.90" y="71.06" width="11.00" height="0.88" fill="#fff5ae"/>
<rect x="267.90" y="71.64" width="11.00" height="0.88" fill="#fffdbc"/>
<rect x="267.90" y="72.22" width="11.00" height="0.88" fill="#fafdb7"/>
<rect x="267.90" y="72.80" width="11.00" height="1.00" fill="#e7f69a"/>
<rect x="267.90" y="73.50" width="11.00" height="1.00" fill="#b4e1a2"/>
<rect x="267.90" y="74.20" width="11.00" height="1.00" fill="#5db8a9"/>
<rect x="267.90" y="74.90" width="11.00" height="1.00" fill="#466eb1"/>
<rect x="267.90" y="75.60" width="11.00" height="26.70" fill="#5e4fa2"/>
<line x1="125.30" y1="9.00" x2="125.30" y2="102.60" stroke="#8c8c8c" stroke-width="1.5"/>
<line x1="123.30" y1="102.60" x2="279.70" y2="102.60" stroke="#222" stroke-width="1.0"/>
<line x1="123.30" y1="102.30" x2="125.30" y2="102.30" stroke="#222" stroke-width="0.9"/>
<text x="122.20" y="105.60" font-size="7.0" text-anchor="end" font-weight="bold" fill="#000">0</text>
<line x1="123.30" y1="79.07" x2="125.30" y2="79.07" stroke="#222" stroke-width="0.9"/>
<text x="122.20" y="82.37" font-size="7.0" text-anchor="end" font-weight="bold" fill="#000">25</text>
<line x1="123.30" y1="55.85" x2="125.30" y2="55.85" stroke="#222" stroke-width="0.9"/>
<text x="122.20" y="59.15" font-size="7.0" text-anchor="end" font-weight="bold" fill="#000">50</text>
<line x1="123.30" y1="32.62" x2="125.30" y2="32.62" stroke="#222" stroke-width="0.9"/>
<text x="122.20" y="35.92" font-size="7.0" text-anchor="end" font-weight="bold" fill="#000">75</text>
<line x1="123.30" y1="9.40" x2="125.30" y2="9.40" stroke="#222" stroke-width="0.9"/>
<text x="122.20" y="12.70" font-size="7.0" text-anchor="end" font-weight="bold" fill="#000">100</text>
<line x1="132.60" y1="102.60" x2="132.60" y2="104.00" stroke="#555" stroke-width="0.7"/>
<line x1="145.40" y1="102.60" x2="145.40" y2="104.00" stroke="#555" stroke-width="0.7"/>
<line x1="158.20" y1="102.60" x2="158.20" y2="104.00" stroke="#555" stroke-width="0.7"/>
<line x1="171.00" y1="102.60" x2="171.00" y2="104.00" stroke="#555" stroke-width="0.7"/>
<line x1="183.80" y1="102.60" x2="183.80" y2="104.00" stroke="#555" stroke-width="0.7"/>
<line x1="196.60" y1="102.60" x2="196.60" y2="104.00" stroke="#555" stroke-width="0.7"/>
<line x1="209.40" y1="102.60" x2="209.40" y2="104.00" stroke="#555" stroke-width="0.7"/>
<line x1="222.20" y1="102.60" x2="222.20" y2="104.00" stroke="#555" stroke-width="0.7"/>
<line x1="235.00" y1="102.60" x2="235.00" y2="104.00" stroke="#555" stroke-width="0.7"/>
<line x1="247.80" y1="102.60" x2="247.80" y2="104.00" stroke="#555" stroke-width="0.7"/>
<line x1="260.60" y1="102.60" x2="260.60" y2="104.00" stroke="#555" stroke-width="0.7"/>
<line x1="273.40" y1="102.60" x2="273.40" y2="104.00" stroke="#555" stroke-width="0.7"/>
<line x1="164.60" y1="9.20" x2="164.60" y2="108.00" stroke="#9a9a9a" stroke-width="0.8" stroke-dasharray="2.2,1.6"/>
<line x1="203.00" y1="9.20" x2="203.00" y2="108.00" stroke="#9a9a9a" stroke-width="0.8" stroke-dasharray="2.2,1.6"/>
<line x1="241.40" y1="9.20" x2="241.40" y2="108.00" stroke="#9a9a9a" stroke-width="0.8" stroke-dasharray="2.2,1.6"/>
<text x="145.40" y="112.30" font-size="6.5" text-anchor="middle" font-weight="bold" fill="#000">3C2V</text>
<text x="183.00" y="112.30" font-size="6.5" text-anchor="middle" font-weight="bold" fill="#000">3M</text>
<text x="221.80" y="112.30" font-size="6.5" text-anchor="middle" font-weight="bold" fill="#000">3M</text>
<text x="261.20" y="112.30" font-size="6.5" text-anchor="middle" font-weight="bold" fill="#000">3C</text>
<line x1="132.40" y1="113.10" x2="198.50" y2="113.10" stroke="#222" stroke-width="1.0"/>
<line x1="207.80" y1="113.10" x2="274.80" y2="113.10" stroke="#222" stroke-width="1.0"/>
<text x="167.30" y="120.60" font-size="6.5" text-anchor="middle" font-weight="bold" fill="#000">2 μg</text>
<text x="245.80" y="120.60" font-size="6.5" text-anchor="middle" font-weight="bold" fill="#000">0.5 μg</text>
<text x="109.30" y="54.80" font-size="7.6" text-anchor="middle" font-weight="bold" fill="#000" transform="rotate(-90 109.30 54.80)">%Frequency</text>
<line x1="305.90" y1="23.00" x2="305.90" y2="101.10" stroke="#000" stroke-width="1.3"/>
<line x1="305.30" y1="100.50" x2="518.50" y2="100.50" stroke="#000" stroke-width="1.2"/>
<line x1="302.60" y1="100.40" x2="305.90" y2="100.40" stroke="#000" stroke-width="1.0"/>
<text x="301.00" y="102.50" font-size="5.8" text-anchor="end" font-weight="bold" fill="#000">0</text>
<line x1="302.60" y1="74.80" x2="305.90" y2="74.80" stroke="#000" stroke-width="1.0"/>
<text x="301.00" y="76.90" font-size="5.8" text-anchor="end" font-weight="bold" fill="#000">20</text>
<line x1="302.60" y1="49.20" x2="305.90" y2="49.20" stroke="#000" stroke-width="1.0"/>
<text x="301.00" y="51.30" font-size="5.8" text-anchor="end" font-weight="bold" fill="#000">40</text>
<line x1="302.60" y1="23.60" x2="305.90" y2="23.60" stroke="#000" stroke-width="1.0"/>
<text x="301.00" y="25.70" font-size="5.8" text-anchor="end" font-weight="bold" fill="#000">60</text>
<line x1="319.20" y1="100.40" x2="319.20" y2="103.80" stroke="#000" stroke-width="1.0"/>
<text x="319.20" y="109.80" font-size="5.8" text-anchor="middle" font-weight="bold" fill="#000">9</text>
<line x1="339.73" y1="100.40" x2="339.73" y2="103.80" stroke="#000" stroke-width="1.0"/>
<text x="339.73" y="109.80" font-size="5.8" text-anchor="middle" font-weight="bold" fill="#000">10</text>
<line x1="360.26" y1="100.40" x2="360.26" y2="103.80" stroke="#000" stroke-width="1.0"/>
<text x="360.26" y="109.80" font-size="5.8" text-anchor="middle" font-weight="bold" fill="#000">11</text>
<line x1="380.79" y1="100.40" x2="380.79" y2="103.80" stroke="#000" stroke-width="1.0"/>
<text x="380.79" y="109.80" font-size="5.8" text-anchor="middle" font-weight="bold" fill="#000">12</text>
<line x1="401.32" y1="100.40" x2="401.32" y2="103.80" stroke="#000" stroke-width="1.0"/>
<text x="401.32" y="109.80" font-size="5.8" text-anchor="middle" font-weight="bold" fill="#000">13</text>
<line x1="421.85" y1="100.40" x2="421.85" y2="103.80" stroke="#000" stroke-width="1.0"/>
<text x="421.85" y="109.80" font-size="5.8" text-anchor="middle" font-weight="bold" fill="#000">14</text>
<line x1="442.38" y1="100.40" x2="442.38" y2="103.80" stroke="#000" stroke-width="1.0"/>
<text x="442.38" y="109.80" font-size="5.8" text-anchor="middle" font-weight="bold" fill="#000">15</text>
<line x1="462.91" y1="100.40" x2="462.91" y2="103.80" stroke="#000" stroke-width="1.0"/>
<text x="462.91" y="109.80" font-size="5.8" text-anchor="middle" font-weight="bold" fill="#000">16</text>
<line x1="483.44" y1="100.40" x2="483.44" y2="103.80" stroke="#000" stroke-width="1.0"/>
<text x="483.44" y="109.80" font-size="5.8" text-anchor="middle" font-weight="bold" fill="#000">17</text>
<line x1="503.97" y1="100.40" x2="503.97" y2="103.80" stroke="#000" stroke-width="1.0"/>
<text x="503.97" y="109.80" font-size="5.8" text-anchor="middle" font-weight="bold" fill="#000">18</text>
<text x="411.60" y="117.20" font-size="5.8" text-anchor="middle" font-weight="bold" fill="#000">CDR3 Length (codon)</text>
<text x="292.20" y="60.60" font-size="5.4" text-anchor="middle" font-weight="bold" fill="#000" transform="rotate(-90 292.20 60.60)">Productive  frequency (%)</text>
<circle cx="380.79" cy="41.01" r="1.55" fill="#e4a0f4" stroke="none" stroke-width="0"/>
<circle cx="380.79" cy="62.51" r="1.55" fill="#cdb990" stroke="none" stroke-width="0"/>
<circle cx="380.79" cy="86.70" r="1.55" fill="#a8ccf4" stroke="none" stroke-width="0"/>
<circle cx="380.79" cy="84.14" r="1.55" fill="#e4a0f4" stroke="none" stroke-width="0"/>
<circle cx="380.79" cy="85.68" r="1.55" fill="#cdb990" stroke="none" stroke-width="0"/>
<circle cx="380.79" cy="90.54" r="1.55" fill="#cdb990" stroke="none" stroke-width="0"/>
<circle cx="380.79" cy="97.46" r="1.55" fill="#fcc89a" stroke="none" stroke-width="0"/>
<circle cx="380.79" cy="88.24" r="1.55" fill="#fcc89a" stroke="none" stroke-width="0"/>
<circle cx="401.32" cy="51.38" r="1.55" fill="#a8ccf4" stroke="none" stroke-width="0"/>
<circle cx="401.32" cy="57.01" r="1.55" fill="#e4a0f4" stroke="none" stroke-width="0"/>
<circle cx="401.32" cy="61.23" r="1.55" fill="#fcc89a" stroke="none" stroke-width="0"/>
<circle cx="401.32" cy="65.46" r="1.55" fill="#a8ccf4" stroke="none" stroke-width="0"/>
<circle cx="401.32" cy="74.80" r="1.55" fill="#a8ccf4" stroke="none" stroke-width="0"/>
<circle cx="401.32" cy="83.25" r="1.55" fill="#e4a0f4" stroke="none" stroke-width="0"/>
<circle cx="401.32" cy="85.68" r="1.55" fill="#cdb990" stroke="none" stroke-width="0"/>
<circle cx="401.32" cy="89.90" r="1.55" fill="#cdb990" stroke="none" stroke-width="0"/>
<circle cx="401.32" cy="97.71" r="1.55" fill="#fcc89a" stroke="none" stroke-width="0"/>
<circle cx="401.32" cy="37.94" r="1.55" fill="#cdb990" stroke="none" stroke-width="0"/>
<circle cx="421.85" cy="24.62" r="1.55" fill="#cdb990" stroke="none" stroke-width="0"/>
<circle cx="421.85" cy="25.90" r="1.55" fill="#fcc89a" stroke="none" stroke-width="0"/>
<circle cx="421.85" cy="36.40" r="1.55" fill="#a8ccf4" stroke="none" stroke-width="0"/>
<circle cx="421.85" cy="40.24" r="1.55" fill="#e4a0f4" stroke="none" stroke-width="0"/>
<circle cx="421.85" cy="64.56" r="1.55" fill="#a8ccf4" stroke="none" stroke-width="0"/>
<circle cx="421.85" cy="62.00" r="1.55" fill="#cdb990" stroke="none" stroke-width="0"/>
<circle cx="421.85" cy="70.96" r="1.55" fill="#e4a0f4" stroke="none" stroke-width="0"/>
<circle cx="421.85" cy="91.70" r="1.55" fill="#cdb990" stroke="none" stroke-width="0"/>
<circle cx="421.85" cy="51.76" r="1.55" fill="#fcc89a" stroke="none" stroke-width="0"/>
<circle cx="442.38" cy="42.80" r="1.55" fill="#fcc89a" stroke="none" stroke-width="0"/>
<circle cx="442.38" cy="54.32" r="1.55" fill="#cdb990" stroke="none" stroke-width="0"/>
<circle cx="442.38" cy="78.00" r="1.55" fill="#e4a0f4" stroke="none" stroke-width="0"/>
<circle cx="442.38" cy="84.14" r="1.55" fill="#a8ccf4" stroke="none" stroke-width="0"/>
<circle cx="442.38" cy="87.34" r="1.55" fill="#fcc89a" stroke="none" stroke-width="0"/>
<circle cx="442.38" cy="85.68" r="1.55" fill="#cdb990" stroke="none" stroke-width="0"/>
<circle cx="462.91" cy="86.58" r="1.55" fill="#a8ccf4" stroke="none" stroke-width="0"/>
<circle cx="462.91" cy="96.56" r="1.55" fill="#fcc89a" stroke="none" stroke-width="0"/>
<circle cx="462.91" cy="97.84" r="1.55" fill="#cdb990" stroke="none" stroke-width="0"/>
<circle cx="462.91" cy="98.86" r="1.55" fill="#e4a0f4" stroke="none" stroke-width="0"/>
<circle cx="483.44" cy="85.04" r="1.55" fill="#cdb990" stroke="none" stroke-width="0"/>
<circle cx="483.44" cy="99.12" r="1.55" fill="#a8ccf4" stroke="none" stroke-width="0"/>
<circle cx="483.44" cy="99.76" r="1.55" fill="#e4a0f4" stroke="none" stroke-width="0"/>
<circle cx="339.73" cy="98.48" r="1.55" fill="#fcc89a" stroke="none" stroke-width="0"/>
<circle cx="339.73" cy="100.02" r="1.55" fill="#a8ccf4" stroke="none" stroke-width="0"/>
<circle cx="360.26" cy="98.48" r="1.55" fill="#e4a0f4" stroke="none" stroke-width="0"/>
<circle cx="360.26" cy="99.63" r="1.55" fill="#fcc89a" stroke="none" stroke-width="0"/>
<circle cx="319.20" cy="100.14" r="1.55" fill="#a8ccf4" stroke="none" stroke-width="0"/>
<circle cx="503.97" cy="100.14" r="1.55" fill="#fcc89a" stroke="none" stroke-width="0"/>
<circle cx="503.97" cy="100.14" r="1.55" fill="#e4a0f4" stroke="none" stroke-width="0"/>
<polyline points="319.20,100.40 339.73,100.02 360.26,98.86 380.79,91.44 401.32,80.56 421.85,44.34 442.38,68.66 462.91,95.28 483.44,98.48 503.97,100.40" fill="none" stroke="#f8a042" stroke-width="1.05" stroke-linejoin="round"/>
<polyline points="319.20,100.40 339.73,100.40 360.26,99.12 380.79,80.82 401.32,71.73 421.85,58.42 442.38,72.24 462.91,96.18 483.44,94.64 503.97,100.40" fill="none" stroke="#857640" stroke-width="1.05" stroke-linejoin="round"/>
<polyline points="319.20,100.40 339.73,100.02 360.26,98.48 380.79,70.96 401.32,76.59 421.85,58.03 442.38,77.49 462.91,97.07 483.44,99.76 503.97,100.40" fill="none" stroke="#c062e6" stroke-width="1.05" stroke-linejoin="round"/>
<polyline points="319.20,100.40 339.73,100.02 360.26,98.48 380.79,90.16 401.32,64.56 421.85,51.25 442.38,81.84 462.91,91.44 483.44,98.48 503.97,100.40" fill="none" stroke="#56a8f2" stroke-width="1.05" stroke-linejoin="round"/>
<rect x="312.4" y="20.3" width="32.6" height="35.4" fill="#fff" stroke="#777" stroke-width="0.6"/>
<line x1="316.20" y1="25.00" x2="323.80" y2="25.00" stroke="#80c0f2" stroke-width="1.4"/>
<text x="328.60" y="27.00" font-size="5.6" text-anchor="start" font-weight="normal" fill="#333">3C2V</text>
<line x1="316.20" y1="33.80" x2="323.80" y2="33.80" stroke="#d284f2" stroke-width="1.4"/>
<text x="328.60" y="35.80" font-size="5.6" text-anchor="start" font-weight="normal" fill="#333">3M</text>
<line x1="316.20" y1="42.40" x2="323.80" y2="42.40" stroke="#80703c" stroke-width="1.4"/>
<text x="328.60" y="44.40" font-size="5.6" text-anchor="start" font-weight="normal" fill="#333">3M'</text>
<line x1="316.20" y1="51.00" x2="323.80" y2="51.00" stroke="#f8b070" stroke-width="1.4"/>
<text x="328.60" y="53.00" font-size="5.6" text-anchor="start" font-weight="normal" fill="#333">3C</text>
<rect x="31.90" y="132.30" width="69.60" height="99.00" fill="#fff"/>
<line x1="31.90" y1="214.20" x2="101.50" y2="214.20" stroke="#f5f5f5" stroke-width="0.5"/>
<line x1="31.90" y1="184.20" x2="101.50" y2="184.20" stroke="#f5f5f5" stroke-width="0.5"/>
<line x1="31.90" y1="154.20" x2="101.50" y2="154.20" stroke="#f5f5f5" stroke-width="0.5"/>
<line x1="31.90" y1="229.20" x2="101.50" y2="229.20" stroke="#ebebeb" stroke-width="0.6"/>
<line x1="31.90" y1="199.20" x2="101.50" y2="199.20" stroke="#ebebeb" stroke-width="0.6"/>
<line x1="31.90" y1="169.20" x2="101.50" y2="169.20" stroke="#ebebeb" stroke-width="0.6"/>
<line x1="31.90" y1="139.20" x2="101.50" y2="139.20" stroke="#ebebeb" stroke-width="0.6"/>
<line x1="45.00" y1="132.30" x2="45.00" y2="231.30" stroke="#ebebeb" stroke-width="0.6"/>
<line x1="67.10" y1="132.30" x2="67.10" y2="231.30" stroke="#ebebeb" stroke-width="0.6"/>
<line x1="89.10" y1="132.30" x2="89.10" y2="231.30" stroke="#ebebeb" stroke-width="0.6"/>
<line x1="31.30" y1="132.30" x2="102.10" y2="132.30" stroke="#e8e8e8" stroke-width="0.8"/>
<line x1="31.30" y1="231.30" x2="102.10" y2="231.30" stroke="#c2c2c2" stroke-width="1.5"/>
<line x1="31.90" y1="131.70" x2="31.90" y2="231.90" stroke="#c2c2c2" stroke-width="1.5"/>
<line x1="101.50" y1="131.70" x2="101.50" y2="231.90" stroke="#c2c2c2" stroke-width="1.5"/>
<line x1="30.50" y1="229.20" x2="31.40" y2="229.20" stroke="#333" stroke-width="0.5"/>
<text x="30.00" y="232.00" font-size="6.7" text-anchor="end" font-weight="normal" fill="#4d4d4d">0</text>
<line x1="30.50" y1="199.20" x2="31.40" y2="199.20" stroke="#333" stroke-width="0.5"/>
<text x="30.00" y="202.00" font-size="6.7" text-anchor="end" font-weight="normal" fill="#4d4d4d">10,000</text>
<line x1="30.50" y1="169.20" x2="31.40" y2="169.20" stroke="#333" stroke-width="0.5"/>
<text x="30.00" y="172.00" font-size="6.7" text-anchor="end" font-weight="normal" fill="#4d4d4d">20,000</text>
<line x1="30.50" y1="139.20" x2="31.40" y2="139.20" stroke="#333" stroke-width="0.5"/>
<text x="30.00" y="142.00" font-size="6.7" text-anchor="end" font-weight="normal" fill="#4d4d4d">30,000</text>
<line x1="45.00" y1="231.30" x2="45.00" y2="232.70" stroke="#333" stroke-width="0.5"/>
<text x="48.90" y="233.50" font-size="5.6" text-anchor="end" font-weight="normal" fill="#4d4d4d" transform="rotate(-90 48.90 233.50)">3C</text>
<line x1="67.10" y1="231.30" x2="67.10" y2="232.70" stroke="#333" stroke-width="0.5"/>
<text x="71.00" y="233.50" font-size="5.6" text-anchor="end" font-weight="normal" fill="#4d4d4d" transform="rotate(-90 71.00 233.50)">3C2V</text>
<line x1="89.10" y1="231.30" x2="89.10" y2="232.70" stroke="#333" stroke-width="0.5"/>
<text x="93.00" y="233.50" font-size="5.6" text-anchor="end" font-weight="normal" fill="#4d4d4d" transform="rotate(-90 93.00 233.50)">3M</text>
<polyline points="45.00,139.10 45.00,137.30 67.10,137.30 67.10,139.10" fill="none" stroke="#666" stroke-width="0.55" stroke-linejoin="round"/>
<text x="56.05" y="136.75" font-size="4.1" text-anchor="middle" font-weight="normal" fill="#222">0.3</text>
<polyline points="67.10,147.80 67.10,146.00 89.10,146.00 89.10,147.80" fill="none" stroke="#666" stroke-width="0.55" stroke-linejoin="round"/>
<text x="78.10" y="145.45" font-size="4.1" text-anchor="middle" font-weight="normal" fill="#222">0.11</text>
<polyline points="45.00,155.70 45.00,153.90 89.10,153.90 89.10,155.70" fill="none" stroke="#666" stroke-width="0.55" stroke-linejoin="round"/>
<text x="67.05" y="153.35" font-size="4.1" text-anchor="middle" font-weight="normal" fill="#222">0.89</text>
<circle cx="44.80" cy="168.10" r="2.00" fill="#66cdaa" stroke="#333" stroke-width="0.35"/>
<circle cx="45.40" cy="208.70" r="2.00" fill="#66cdaa" stroke="#333" stroke-width="0.35"/>
<circle cx="44.00" cy="217.80" r="2.00" fill="#66cdaa" stroke="#333" stroke-width="0.35"/>
<circle cx="67.30" cy="209.00" r="2.00" fill="#921212" stroke="#333" stroke-width="0.35"/>
<circle cx="68.70" cy="222.00" r="2.00" fill="#921212" stroke="#333" stroke-width="0.35"/>
<circle cx="66.70" cy="227.00" r="2.00" fill="#921212" stroke="#333" stroke-width="0.35"/>
<circle cx="86.20" cy="157.00" r="2.00" fill="#a020b0" stroke="#333" stroke-width="0.35"/>
<circle cx="90.60" cy="167.30" r="2.00" fill="#a020b0" stroke="#333" stroke-width="0.35"/>
<circle cx="87.70" cy="184.50" r="2.00" fill="#a020b0" stroke="#333" stroke-width="0.35"/>
<circle cx="91.20" cy="217.70" r="2.00" fill="#a020b0" stroke="#333" stroke-width="0.35"/>
<circle cx="90.00" cy="219.80" r="2.00" fill="#a020b0" stroke="#333" stroke-width="0.35"/>
<circle cx="90.00" cy="225.00" r="2.00" fill="#a020b0" stroke="#333" stroke-width="0.35"/>
<text x="6.40" y="182.40" font-size="7.66" text-anchor="middle" font-weight="normal" fill="#000" transform="rotate(-90 6.40 182.40)" stroke="#000" stroke-width="0.22">Total TCR transcripts</text>
<rect x="125.90" y="132.60" width="78.80" height="98.50" fill="#fff"/>
<line x1="125.90" y1="214.62" x2="204.70" y2="214.62" stroke="#f5f5f5" stroke-width="0.5"/>
<line x1="125.90" y1="195.68" x2="204.70" y2="195.68" stroke="#f5f5f5" stroke-width="0.5"/>
<line x1="125.90" y1="176.73" x2="204.70" y2="176.73" stroke="#f5f5f5" stroke-width="0.5"/>
<line x1="125.90" y1="157.78" x2="204.70" y2="157.78" stroke="#f5f5f5" stroke-width="0.5"/>
<line x1="125.90" y1="224.10" x2="204.70" y2="224.10" stroke="#ebebeb" stroke-width="0.6"/>
<line x1="125.90" y1="205.15" x2="204.70" y2="205.15" stroke="#ebebeb" stroke-width="0.6"/>
<line x1="125.90" y1="186.20" x2="204.70" y2="186.20" stroke="#ebebeb" stroke-width="0.6"/>
<line x1="125.90" y1="167.25" x2="204.70" y2="167.25" stroke="#ebebeb" stroke-width="0.6"/>
<line x1="125.90" y1="148.30" x2="204.70" y2="148.30" stroke="#ebebeb" stroke-width="0.6"/>
<line x1="140.20" y1="132.60" x2="140.20" y2="231.10" stroke="#ebebeb" stroke-width="0.6"/>
<line x1="165.30" y1="132.60" x2="165.30" y2="231.10" stroke="#ebebeb" stroke-width="0.6"/>
<line x1="189.80" y1="132.60" x2="189.80" y2="231.10" stroke="#ebebeb" stroke-width="0.6"/>
<line x1="125.30" y1="132.60" x2="205.30" y2="132.60" stroke="#c2c2c2" stroke-width="1.5"/>
<line x1="125.30" y1="231.10" x2="205.30" y2="231.10" stroke="#dcdcdc" stroke-width="1.0"/>
<line x1="125.90" y1="132.00" x2="125.90" y2="231.70" stroke="#e8e8e8" stroke-width="0.8"/>
<line x1="204.70" y1="132.00" x2="204.70" y2="231.70" stroke="#c2c2c2" stroke-width="1.5"/>
<line x1="124.50" y1="224.10" x2="125.40" y2="224.10" stroke="#333" stroke-width="0.5"/>
<text x="124.00" y="226.90" font-size="6.7" text-anchor="end" font-weight="normal" fill="#4d4d4d">0.6</text>
<line x1="124.50" y1="205.15" x2="125.40" y2="205.15" stroke="#333" stroke-width="0.5"/>
<text x="124.00" y="207.95" font-size="6.7" text-anchor="end" font-weight="normal" fill="#4d4d4d">0.7</text>
<line x1="124.50" y1="186.20" x2="125.40" y2="186.20" stroke="#333" stroke-width="0.5"/>
<text x="124.00" y="189.00" font-size="6.7" text-anchor="end" font-weight="normal" fill="#4d4d4d">0.8</text>
<line x1="124.50" y1="167.25" x2="125.40" y2="167.25" stroke="#333" stroke-width="0.5"/>
<text x="124.00" y="170.05" font-size="6.7" text-anchor="end" font-weight="normal" fill="#4d4d4d">0.9</text>
<line x1="124.50" y1="148.30" x2="125.40" y2="148.30" stroke="#333" stroke-width="0.5"/>
<text x="124.00" y="151.10" font-size="6.7" text-anchor="end" font-weight="normal" fill="#4d4d4d">1.0</text>
<line x1="140.20" y1="231.10" x2="140.20" y2="232.50" stroke="#333" stroke-width="0.5"/>
<text x="144.10" y="233.30" font-size="5.6" text-anchor="end" font-weight="normal" fill="#4d4d4d" transform="rotate(-90 144.10 233.30)">3C</text>
<line x1="165.30" y1="231.10" x2="165.30" y2="232.50" stroke="#333" stroke-width="0.5"/>
<text x="169.20" y="233.30" font-size="5.6" text-anchor="end" font-weight="normal" fill="#4d4d4d" transform="rotate(-90 169.20 233.30)">3C2V</text>
<line x1="189.80" y1="231.10" x2="189.80" y2="232.50" stroke="#333" stroke-width="0.5"/>
<text x="193.70" y="233.30" font-size="5.6" text-anchor="end" font-weight="normal" fill="#4d4d4d" transform="rotate(-90 193.70 233.30)">3M</text>
<polyline points="140.20,139.00 140.20,137.20 165.30,137.20 165.30,139.00" fill="none" stroke="#666" stroke-width="0.55" stroke-linejoin="round"/>
<text x="152.75" y="136.65" font-size="4.1" text-anchor="middle" font-weight="normal" fill="#222">0.2</text>
<polyline points="165.30,147.20 165.30,145.40 189.80,145.40 189.80,147.20" fill="none" stroke="#666" stroke-width="0.55" stroke-linejoin="round"/>
<text x="177.55" y="144.85" font-size="4.1" text-anchor="middle" font-weight="normal" fill="#222">0.25</text>
<polyline points="140.20,155.40 140.20,153.60 189.80,153.60 189.80,155.40" fill="none" stroke="#666" stroke-width="0.55" stroke-linejoin="round"/>
<text x="165.00" y="153.05" font-size="4.1" text-anchor="middle" font-weight="normal" fill="#222">0.79</text>
<circle cx="139.20" cy="159.10" r="2.00" fill="#66cdaa" stroke="#333" stroke-width="0.35"/>
<circle cx="139.20" cy="178.40" r="2.00" fill="#66cdaa" stroke="#333" stroke-width="0.35"/>
<circle cx="139.20" cy="194.40" r="2.00" fill="#66cdaa" stroke="#333" stroke-width="0.35"/>
<circle cx="166.00" cy="188.60" r="2.00" fill="#921212" stroke="#333" stroke-width="0.35"/>
<circle cx="166.00" cy="190.60" r="2.00" fill="#921212" stroke="#333" stroke-width="0.35"/>
<circle cx="163.10" cy="227.00" r="2.00" fill="#921212" stroke="#333" stroke-width="0.35"/>
<circle cx="188.00" cy="157.70" r="2.00" fill="#a020b0" stroke="#333" stroke-width="0.35"/>
<circle cx="190.80" cy="159.10" r="2.00" fill="#a020b0" stroke="#333" stroke-width="0.35"/>
<circle cx="190.30" cy="168.10" r="2.00" fill="#a020b0" stroke="#333" stroke-width="0.35"/>
<circle cx="189.40" cy="188.00" r="2.00" fill="#a020b0" stroke="#333" stroke-width="0.35"/>
<circle cx="189.40" cy="195.30" r="2.00" fill="#a020b0" stroke="#333" stroke-width="0.35"/>
<circle cx="189.40" cy="218.90" r="2.00" fill="#a020b0" stroke="#333" stroke-width="0.35"/>
<text x="113.00" y="181.70" font-size="8.2" text-anchor="middle" font-weight="normal" fill="#000" transform="rotate(-90 113.00 181.70)" stroke="#000" stroke-width="0.22">giniCoefficient</text>
<rect x="28.40" y="260.80" width="72.80" height="98.40" fill="#fff"/>
<line x1="28.40" y1="331.62" x2="101.20" y2="331.62" stroke="#f5f5f5" stroke-width="0.5"/>
<line x1="28.40" y1="305.05" x2="101.20" y2="305.05" stroke="#f5f5f5" stroke-width="0.5"/>
<line x1="28.40" y1="278.48" x2="101.20" y2="278.48" stroke="#f5f5f5" stroke-width="0.5"/>
<line x1="28.40" y1="344.90" x2="101.20" y2="344.90" stroke="#ebebeb" stroke-width="0.6"/>
<line x1="28.40" y1="318.34" x2="101.20" y2="318.34" stroke="#ebebeb" stroke-width="0.6"/>
<line x1="28.40" y1="291.77" x2="101.20" y2="291.77" stroke="#ebebeb" stroke-width="0.6"/>
<line x1="28.40" y1="265.20" x2="101.20" y2="265.20" stroke="#ebebeb" stroke-width="0.6"/>
<line x1="42.00" y1="260.80" x2="42.00" y2="359.20" stroke="#ebebeb" stroke-width="0.6"/>
<line x1="64.80" y1="260.80" x2="64.80" y2="359.20" stroke="#ebebeb" stroke-width="0.6"/>
<line x1="87.60" y1="260.80" x2="87.60" y2="359.20" stroke="#ebebeb" stroke-width="0.6"/>
<line x1="27.80" y1="260.80" x2="101.80" y2="260.80" stroke="#e8e8e8" stroke-width="0.8"/>
<line x1="27.80" y1="359.20" x2="101.80" y2="359.20" stroke="#d2d2d2" stroke-width="1.2"/>
<line x1="28.40" y1="260.20" x2="28.40" y2="359.80" stroke="#dcdcdc" stroke-width="1.0"/>
<line x1="101.20" y1="260.20" x2="101.20" y2="359.80" stroke="#c2c2c2" stroke-width="1.5"/>
<line x1="27.00" y1="344.90" x2="27.90" y2="344.90" stroke="#333" stroke-width="0.5"/>
<text x="26.50" y="347.70" font-size="6.7" text-anchor="end" font-weight="normal" fill="#4d4d4d">400</text>
<line x1="27.00" y1="318.34" x2="27.90" y2="318.34" stroke="#333" stroke-width="0.5"/>
<text x="26.50" y="321.14" font-size="6.7" text-anchor="end" font-weight="normal" fill="#4d4d4d">800</text>
<line x1="27.00" y1="291.77" x2="27.90" y2="291.77" stroke="#333" stroke-width="0.5"/>
<text x="26.50" y="294.57" font-size="6.7" text-anchor="end" font-weight="normal" fill="#4d4d4d">1,200</text>
<line x1="27.00" y1="265.20" x2="27.90" y2="265.20" stroke="#333" stroke-width="0.5"/>
<text x="26.50" y="268.00" font-size="6.7" text-anchor="end" font-weight="normal" fill="#4d4d4d">1,600</text>
<line x1="42.00" y1="359.20" x2="42.00" y2="360.60" stroke="#333" stroke-width="0.5"/>
<text x="45.90" y="361.40" font-size="5.6" text-anchor="end" font-weight="normal" fill="#4d4d4d" transform="rotate(-90 45.90 361.40)">3C</text>
<line x1="64.80" y1="359.20" x2="64.80" y2="360.60" stroke="#333" stroke-width="0.5"/>
<text x="68.70" y="361.40" font-size="5.6" text-anchor="end" font-weight="normal" fill="#4d4d4d" transform="rotate(-90 68.70 361.40)">3C2V</text>
<line x1="87.60" y1="359.20" x2="87.60" y2="360.60" stroke="#333" stroke-width="0.5"/>
<text x="91.50" y="361.40" font-size="5.6" text-anchor="end" font-weight="normal" fill="#4d4d4d" transform="rotate(-90 91.50 361.40)">3M</text>
<polyline points="41.70,267.00 41.70,265.20 64.60,265.20 64.60,267.00" fill="none" stroke="#666" stroke-width="0.55" stroke-linejoin="round"/>
<text x="53.15" y="264.65" font-size="4.6" text-anchor="middle" font-weight="normal" fill="#222">0.51</text>
<polyline points="64.60,275.10 64.60,273.30 87.50,273.30 87.50,275.10" fill="none" stroke="#666" stroke-width="0.55" stroke-linejoin="round"/>
<text x="76.05" y="272.75" font-size="4.6" text-anchor="middle" font-weight="normal" fill="#222">0.59</text>
<polyline points="41.70,283.60 41.70,281.80 87.50,281.80 87.50,283.60" fill="none" stroke="#666" stroke-width="0.55" stroke-linejoin="round"/>
<text x="64.60" y="281.25" font-size="4.6" text-anchor="middle" font-weight="normal" fill="#222">0.8</text>
<circle cx="41.00" cy="319.40" r="2.00" fill="#66cdaa" stroke="#333" stroke-width="0.35"/>
<circle cx="43.90" cy="313.70" r="2.00" fill="#66cdaa" stroke="#333" stroke-width="0.35"/>
<circle cx="43.90" cy="315.90" r="2.00" fill="#66cdaa" stroke="#333" stroke-width="0.35"/>
<circle cx="65.20" cy="293.00" r="2.00" fill="#921212" stroke="#333" stroke-width="0.35"/>
<circle cx="62.40" cy="346.50" r="2.00" fill="#921212" stroke="#333" stroke-width="0.35"/>
<circle cx="64.60" cy="355.00" r="2.00" fill="#921212" stroke="#333" stroke-width="0.35"/>
<circle cx="87.80" cy="284.40" r="2.00" fill="#a020b0" stroke="#333" stroke-width="0.35"/>
<circle cx="86.20" cy="301.90" r="2.00" fill="#a020b0" stroke="#333" stroke-width="0.35"/>
<circle cx="86.90" cy="318.50" r="2.00" fill="#a020b0" stroke="#333" stroke-width="0.35"/>
<circle cx="86.90" cy="329.60" r="2.00" fill="#a020b0" stroke="#333" stroke-width="0.35"/>
<circle cx="89.40" cy="336.60" r="2.00" fill="#a020b0" stroke="#333" stroke-width="0.35"/>
<circle cx="86.20" cy="340.80" r="2.00" fill="#a020b0" stroke="#333" stroke-width="0.35"/>
<text x="6.10" y="303.90" font-size="7.6" text-anchor="middle" font-weight="normal" fill="#000" transform="rotate(-90 6.10 303.90)" stroke="#000" stroke-width="0.22">Number of unique CDR3</text>
<rect x="126.40" y="260.50" width="78.00" height="99.40" fill="#fff"/>
<line x1="126.40" y1="339.60" x2="204.40" y2="339.60" stroke="#f5f5f5" stroke-width="0.5"/>
<line x1="126.40" y1="309.76" x2="204.40" y2="309.76" stroke="#f5f5f5" stroke-width="0.5"/>
<line x1="126.40" y1="279.92" x2="204.40" y2="279.92" stroke="#f5f5f5" stroke-width="0.5"/>
<line x1="126.40" y1="354.52" x2="204.40" y2="354.52" stroke="#ebebeb" stroke-width="0.6"/>
<line x1="126.40" y1="324.68" x2="204.40" y2="324.68" stroke="#ebebeb" stroke-width="0.6"/>
<line x1="126.40" y1="294.84" x2="204.40" y2="294.84" stroke="#ebebeb" stroke-width="0.6"/>
<line x1="126.40" y1="265.00" x2="204.40" y2="265.00" stroke="#ebebeb" stroke-width="0.6"/>
<line x1="140.70" y1="260.50" x2="140.70" y2="359.90" stroke="#ebebeb" stroke-width="0.6"/>
<line x1="165.50" y1="260.50" x2="165.50" y2="359.90" stroke="#ebebeb" stroke-width="0.6"/>
<line x1="190.00" y1="260.50" x2="190.00" y2="359.90" stroke="#ebebeb" stroke-width="0.6"/>
<line x1="125.80" y1="260.50" x2="205.00" y2="260.50" stroke="#e8e8e8" stroke-width="0.8"/>
<line x1="125.80" y1="359.90" x2="205.00" y2="359.90" stroke="#d2d2d2" stroke-width="1.2"/>
<line x1="126.40" y1="259.90" x2="126.40" y2="360.50" stroke="#d2d2d2" stroke-width="1.2"/>
<line x1="204.40" y1="259.90" x2="204.40" y2="360.50" stroke="#c2c2c2" stroke-width="1.5"/>
<line x1="125.00" y1="354.52" x2="125.90" y2="354.52" stroke="#333" stroke-width="0.5"/>
<text x="124.50" y="357.32" font-size="6.7" text-anchor="end" font-weight="normal" fill="#4d4d4d">0.2</text>
<line x1="125.00" y1="324.68" x2="125.90" y2="324.68" stroke="#333" stroke-width="0.5"/>
<text x="124.50" y="327.48" font-size="6.7" text-anchor="end" font-weight="normal" fill="#4d4d4d">0.4</text>
<line x1="125.00" y1="294.84" x2="125.90" y2="294.84" stroke="#333" stroke-width="0.5"/>
<text x="124.50" y="297.64" font-size="6.7" text-anchor="end" font-weight="normal" fill="#4d4d4d">0.6</text>
<line x1="125.00" y1="265.00" x2="125.90" y2="265.00" stroke="#333" stroke-width="0.5"/>
<text x="124.50" y="267.80" font-size="6.7" text-anchor="end" font-weight="normal" fill="#4d4d4d">0.8</text>
<line x1="140.70" y1="359.90" x2="140.70" y2="361.30" stroke="#333" stroke-width="0.5"/>
<text x="144.60" y="362.10" font-size="5.6" text-anchor="end" font-weight="normal" fill="#4d4d4d" transform="rotate(-90 144.60 362.10)">3C</text>
<line x1="165.50" y1="359.90" x2="165.50" y2="361.30" stroke="#333" stroke-width="0.5"/>
<text x="169.40" y="362.10" font-size="5.6" text-anchor="end" font-weight="normal" fill="#4d4d4d" transform="rotate(-90 169.40 362.10)">3C2V</text>
<line x1="190.00" y1="359.90" x2="190.00" y2="361.30" stroke="#333" stroke-width="0.5"/>
<text x="193.90" y="362.10" font-size="5.6" text-anchor="end" font-weight="normal" fill="#4d4d4d" transform="rotate(-90 193.90 362.10)">3M</text>
<polyline points="140.70,266.80 140.70,265.00 165.50,265.00 165.50,266.80" fill="none" stroke="#666" stroke-width="0.55" stroke-linejoin="round"/>
<text x="153.10" y="264.45" font-size="4.6" text-anchor="middle" font-weight="normal" fill="#222">0.12</text>
<polyline points="165.50,275.00 165.50,273.20 190.00,273.20 190.00,275.00" fill="none" stroke="#666" stroke-width="0.55" stroke-linejoin="round"/>
<text x="177.75" y="272.65" font-size="4.6" text-anchor="middle" font-weight="normal" fill="#222">0.058</text>
<polyline points="140.70,283.60 140.70,281.80 190.00,281.80 190.00,283.60" fill="none" stroke="#666" stroke-width="0.55" stroke-linejoin="round"/>
<text x="165.35" y="281.25" font-size="4.6" text-anchor="middle" font-weight="normal" fill="#222">0.99</text>
<circle cx="138.50" cy="294.60" r="2.00" fill="#66cdaa" stroke="#333" stroke-width="0.35"/>
<circle cx="139.10" cy="325.80" r="2.00" fill="#66cdaa" stroke="#333" stroke-width="0.35"/>
<circle cx="141.70" cy="327.40" r="2.00" fill="#66cdaa" stroke="#333" stroke-width="0.35"/>
<circle cx="164.60" cy="330.60" r="2.00" fill="#921212" stroke="#333" stroke-width="0.35"/>
<circle cx="167.10" cy="342.40" r="2.00" fill="#921212" stroke="#333" stroke-width="0.35"/>
<circle cx="165.50" cy="355.10" r="2.00" fill="#921212" stroke="#333" stroke-width="0.35"/>
<circle cx="188.50" cy="285.70" r="2.00" fill="#a020b0" stroke="#333" stroke-width="0.35"/>
<circle cx="189.10" cy="297.10" r="2.00" fill="#a020b0" stroke="#333" stroke-width="0.35"/>
<circle cx="189.10" cy="307.30" r="2.00" fill="#a020b0" stroke="#333" stroke-width="0.35"/>
<circle cx="189.10" cy="322.60" r="2.00" fill="#a020b0" stroke="#333" stroke-width="0.35"/>
<circle cx="189.10" cy="335.00" r="2.00" fill="#a020b0" stroke="#333" stroke-width="0.35"/>
<circle cx="191.00" cy="348.70" r="2.00" fill="#a020b0" stroke="#333" stroke-width="0.35"/>
<text x="114.60" y="308.10" font-size="8.8" text-anchor="middle" font-weight="normal" fill="#000" transform="rotate(-90 114.60 308.10)" stroke="#000" stroke-width="0.22">clonality</text>
<rect x="252.30" y="163.00" width="37.70" height="7.90" fill="#66c8a8"/>
<rect x="291.30" y="163.00" width="38.00" height="7.90" fill="#800000"/>
<rect x="330.90" y="163.00" width="75.10" height="7.90" fill="#8b008b"/>
<text x="270.90" y="141.20" font-size="8.0" text-anchor="middle" font-weight="normal" fill="#000">3C</text>
<text x="310.30" y="141.20" font-size="8.0" text-anchor="middle" font-weight="normal" fill="#000">3C2V</text>
<text x="368.00" y="141.20" font-size="8.0" text-anchor="middle" font-weight="normal" fill="#000">3M</text>
<rect x="291.90" y="173.30" width="11.47" height="7.40" fill="#fc9a80"/>
<rect x="304.57" y="173.30" width="11.47" height="7.40" fill="#fa4628"/>
<rect x="317.23" y="173.30" width="11.47" height="7.40" fill="#fb7a5a"/>
<rect x="331.50" y="173.30" width="11.32" height="7.40" fill="#f86040"/>
<rect x="344.02" y="173.30" width="11.32" height="7.40" fill="#fc8a6a"/>
<rect x="356.53" y="173.30" width="11.32" height="7.40" fill="#fc8a6a"/>
<rect x="369.05" y="173.30" width="11.32" height="7.40" fill="#fc8060"/>
<rect x="331.50" y="181.83" width="11.32" height="7.40" fill="#fde0d6"/>
<rect x="344.02" y="181.83" width="11.32" height="7.40" fill="#fca890"/>
<rect x="356.53" y="181.83" width="11.32" height="7.40" fill="#fcc8b8"/>
<rect x="381.57" y="181.83" width="11.32" height="7.40" fill="#f05030"/>
<rect x="394.08" y="181.83" width="11.32" height="7.40" fill="#fcb8a0"/>
<rect x="331.50" y="190.36" width="11.32" height="7.40" fill="#f87050"/>
<rect x="344.02" y="190.36" width="11.32" height="7.40" fill="#fdd8cc"/>
<rect x="356.53" y="190.36" width="11.32" height="7.40" fill="#fdd0c0"/>
<rect x="369.05" y="190.36" width="11.32" height="7.40" fill="#fde8e0"/>
<rect x="381.57" y="190.36" width="11.32" height="7.40" fill="#f04c30"/>
<rect x="252.90" y="198.89" width="11.37" height="7.40" fill="#f43a2a"/>
<rect x="265.47" y="198.89" width="11.37" height="7.40" fill="#fcac98"/>
<rect x="278.03" y="198.89" width="11.37" height="7.40" fill="#fde6dc"/>
<rect x="252.90" y="207.42" width="11.37" height="7.40" fill="#f43828"/>
<rect x="265.47" y="207.42" width="11.37" height="7.40" fill="#fcac98"/>
<rect x="252.90" y="215.95" width="11.37" height="7.40" fill="#f86a50"/>
<rect x="265.47" y="215.95" width="11.37" height="7.40" fill="#fcb8a4"/>
<rect x="252.90" y="224.48" width="11.37" height="7.40" fill="#f87058"/>
<rect x="265.47" y="224.48" width="11.37" height="7.40" fill="#fdd4c8"/>
<rect x="265.47" y="233.01" width="11.37" height="7.40" fill="#fcac98"/>
<rect x="278.03" y="233.01" width="11.37" height="7.40" fill="#f86048"/>
<rect x="252.90" y="241.54" width="11.37" height="7.40" fill="#fcb0a0"/>
<rect x="291.90" y="241.54" width="11.47" height="7.40" fill="#fdd0c0"/>
<rect x="317.23" y="241.54" width="11.47" height="7.40" fill="#f88060"/>
<rect x="252.90" y="250.07" width="11.37" height="7.40" fill="#fdc4b4"/>
<rect x="291.90" y="250.07" width="11.47" height="7.40" fill="#fdc8b8"/>
<rect x="317.23" y="250.07" width="11.47" height="7.40" fill="#f87050"/>
<rect x="291.90" y="258.60" width="11.47" height="7.40" fill="#fdc8b8"/>
<rect x="317.23" y="258.60" width="11.47" height="7.40" fill="#f87858"/>
<rect x="304.57" y="267.13" width="11.47" height="7.40" fill="#f86448"/>
<rect x="317.23" y="267.13" width="11.47" height="7.40" fill="#fcb8a4"/>
<rect x="304.57" y="275.66" width="11.47" height="7.40" fill="#f87860"/>
<rect x="252.90" y="284.19" width="11.37" height="7.40" fill="#fc9070"/>
<rect x="265.47" y="284.19" width="11.37" height="7.40" fill="#fde0d8"/>
<rect x="291.90" y="284.19" width="11.47" height="7.40" fill="#f87050"/>
<rect x="304.57" y="284.19" width="11.47" height="7.40" fill="#fcc0ac"/>
<rect x="291.90" y="292.72" width="11.47" height="7.40" fill="#f40000"/>
<rect x="304.57" y="292.72" width="11.47" height="7.40" fill="#fc9070"/>
<rect x="291.90" y="301.25" width="11.47" height="7.40" fill="#f87050"/>
<rect x="304.57" y="301.25" width="11.47" height="7.40" fill="#fc9478"/>
<rect x="291.90" y="309.78" width="11.47" height="7.40" fill="#f88060"/>
<rect x="304.57" y="309.78" width="11.47" height="7.40" fill="#fcb09c"/>
<rect x="291.90" y="318.31" width="11.47" height="7.40" fill="#f88060"/>
<rect x="304.57" y="318.31" width="11.47" height="7.40" fill="#fcb8a4"/>
<rect x="291.90" y="326.84" width="11.47" height="7.40" fill="#f87858"/>
<rect x="304.57" y="326.84" width="11.47" height="7.40" fill="#fdd0c4"/>
<rect x="291.90" y="335.37" width="11.47" height="7.40" fill="#f88060"/>
<rect x="304.57" y="335.37" width="11.47" height="7.40" fill="#fdd8cc"/>
<rect x="252.30" y="172.60" width="37.70" height="170.70" fill="none" stroke="#a6a6a6" stroke-width="1.3"/>
<rect x="291.30" y="172.60" width="38.00" height="170.70" fill="none" stroke="#a6a6a6" stroke-width="1.3"/>
<rect x="330.90" y="172.60" width="75.10" height="170.70" fill="none" stroke="#a6a6a6" stroke-width="1.3"/>
<text transform="translate(408.0 178.75) scale(0.8 1)" font-size="4.9" fill="#333">CASSLDLDYEQYF</text>
<text transform="translate(408.0 187.28) scale(0.8 1)" font-size="4.9" fill="#333">CASSQDYAEQFF</text>
<text transform="translate(408.0 195.81) scale(0.8 1)" font-size="4.9" fill="#333">CASSQDGTGGAEQFF</text>
<text transform="translate(408.0 204.34) scale(0.8 1)" font-size="4.9" fill="#333">CASSQGLGNEQFF</text>
<text transform="translate(408.0 212.87) scale(0.8 1)" font-size="4.9" fill="#333">CASSPSSYEQYF</text>
<text transform="translate(408.0 221.40) scale(0.8 1)" font-size="4.9" fill="#333">CASTSGTGGDTQYF</text>
<text transform="translate(408.0 229.93) scale(0.8 1)" font-size="4.9" fill="#333">CASSPLARGDSGNTLYF</text>
<text transform="translate(408.0 238.46) scale(0.8 1)" font-size="4.9" fill="#333">CASSQTGDSYEQYF</text>
<text transform="translate(408.0 246.99) scale(0.8 1)" font-size="4.9" fill="#333">CASSQVGQTGNTLYF</text>
<text transform="translate(408.0 255.52) scale(0.8 1)" font-size="4.9" fill="#333">CASSSGLGGGEQYF</text>
<text transform="translate(408.0 264.05) scale(0.8 1)" font-size="4.9" fill="#333">CASSQDPGYEQYF</text>
<text transform="translate(408.0 272.58) scale(0.8 1)" font-size="4.9" fill="#333">CASSRDWGGYEQYF</text>
<text transform="translate(408.0 281.11) scale(0.8 1)" font-size="4.9" fill="#333">CASSPGTNTGQLYF</text>
<text transform="translate(408.0 289.64) scale(0.8 1)" font-size="4.9" fill="#333">CASSGTRDWGYEQYF</text>
<text transform="translate(408.0 298.17) scale(0.8 1)" font-size="4.9" fill="#333">CASSAGGAFAEQFF</text>
<text transform="translate(408.0 306.70) scale(0.8 1)" font-size="4.9" fill="#333">CASSLTGGSGYTF</text>
<text transform="translate(408.0 315.23) scale(0.8 1)" font-size="4.9" fill="#333">CASSPGLGEGEQYF</text>
<text transform="translate(408.0 323.76) scale(0.8 1)" font-size="4.9" fill="#333">CASSRGGAYEQYF</text>
<text transform="translate(408.0 332.29) scale(0.8 1)" font-size="4.9" fill="#333">CASSFLGGTEVFF</text>
<text transform="translate(408.0 340.82) scale(0.8 1)" font-size="4.9" fill="#333">CASSRLGDTQYF</text>
<text x="260.38" y="345.00" font-size="5.2" text-anchor="end" font-weight="normal" fill="#444" transform="rotate(-90 260.38 345.00)">3C_Batch1</text>
<text x="272.95" y="345.00" font-size="5.2" text-anchor="end" font-weight="normal" fill="#444" transform="rotate(-90 272.95 345.00)">3C_Batch1</text>
<text x="285.52" y="345.00" font-size="5.2" text-anchor="end" font-weight="normal" fill="#444" transform="rotate(-90 285.52 345.00)">3C_Batch1</text>
<text x="299.43" y="345.00" font-size="5.2" text-anchor="end" font-weight="normal" fill="#444" transform="rotate(-90 299.43 345.00)">3C2V_Batch2</text>
<text x="312.10" y="345.00" font-size="5.2" text-anchor="end" font-weight="normal" fill="#444" transform="rotate(-90 312.10 345.00)">3C2V_Batch2</text>
<text x="324.77" y="345.00" font-size="5.2" text-anchor="end" font-weight="normal" fill="#444" transform="rotate(-90 324.77 345.00)">3C2V_Batch2</text>
<text x="338.96" y="345.00" font-size="5.2" text-anchor="end" font-weight="normal" fill="#444" transform="rotate(-90 338.96 345.00)">3M_Batch2</text>
<text x="351.48" y="345.00" font-size="5.2" text-anchor="end" font-weight="normal" fill="#444" transform="rotate(-90 351.48 345.00)">3M_Batch1</text>
<text x="363.99" y="345.00" font-size="5.2" text-anchor="end" font-weight="normal" fill="#444" transform="rotate(-90 363.99 345.00)">3M_Batch2</text>
<text x="376.51" y="345.00" font-size="5.2" text-anchor="end" font-weight="normal" fill="#444" transform="rotate(-90 376.51 345.00)">3M_Batch1</text>
<text x="389.03" y="345.00" font-size="5.2" text-anchor="end" font-weight="normal" fill="#444" transform="rotate(-90 389.03 345.00)">3M_Batch1</text>
<text x="401.54" y="345.00" font-size="5.2" text-anchor="end" font-weight="normal" fill="#444" transform="rotate(-90 401.54 345.00)">3M_Batch2</text>
<polyline points="258.50,163.00 258.50,146.50 277.20,146.50 277.20,156.20" fill="none" stroke="#555" stroke-width="0.7" stroke-linejoin="round"/>
<polyline points="270.90,163.00 270.90,156.20 283.40,156.20 283.40,163.00" fill="none" stroke="#555" stroke-width="0.7" stroke-linejoin="round"/>
<polyline points="323.00,163.00 323.00,145.70 303.80,145.70 303.80,150.00" fill="none" stroke="#555" stroke-width="0.7" stroke-linejoin="round"/>
<polyline points="297.70,163.00 297.70,150.00 310.20,150.00 310.20,163.00" fill="none" stroke="#555" stroke-width="0.7" stroke-linejoin="round"/>
<polyline points="351.20,156.20 351.20,151.50 393.80,151.50 393.80,154.50" fill="none" stroke="#555" stroke-width="0.7" stroke-linejoin="round"/>
<polyline points="387.60,163.00 387.60,154.50 400.20,154.50 400.20,163.00" fill="none" stroke="#555" stroke-width="0.7" stroke-linejoin="round"/>
<polyline points="337.10,163.00 337.10,156.20 365.40,156.20 365.40,157.60" fill="none" stroke="#555" stroke-width="0.7" stroke-linejoin="round"/>
<polyline points="374.50,163.00 374.50,157.60 356.00,157.60 356.00,160.20" fill="none" stroke="#555" stroke-width="0.7" stroke-linejoin="round"/>
<polyline points="349.60,163.00 349.60,160.20 362.40,160.20 362.40,163.00" fill="none" stroke="#555" stroke-width="0.7" stroke-linejoin="round"/>
<polyline points="251.80,177.00 234.90,177.00 234.90,254.30 239.30,254.30" fill="none" stroke="#555" stroke-width="0.7" stroke-linejoin="round"/>
<polyline points="251.80,185.53 245.70,185.53 245.70,194.06 251.80,194.06" fill="none" stroke="#555" stroke-width="0.7" stroke-linejoin="round"/>
<polyline points="245.70,189.70 239.90,189.70 239.90,296.40" fill="none" stroke="#555" stroke-width="0.7" stroke-linejoin="round"/>
<polyline points="251.80,202.59 250.50,202.59 250.50,211.12 251.80,211.12" fill="none" stroke="#555" stroke-width="0.7" stroke-linejoin="round"/>
<polyline points="251.80,219.65 250.50,219.65 250.50,228.18 251.80,228.18" fill="none" stroke="#555" stroke-width="0.7" stroke-linejoin="round"/>
<polyline points="250.50,206.86 249.30,206.86 249.30,223.92 250.50,223.92" fill="none" stroke="#555" stroke-width="0.7" stroke-linejoin="round"/>
<polyline points="249.30,215.30 240.50,215.30" fill="none" stroke="#555" stroke-width="0.7" stroke-linejoin="round"/>
<polyline points="240.50,211.30 240.50,233.40" fill="none" stroke="#555" stroke-width="0.7" stroke-linejoin="round"/>
<polyline points="251.80,236.71 241.40,236.71 241.40,251.30" fill="none" stroke="#555" stroke-width="0.7" stroke-linejoin="round"/>
<polyline points="251.80,245.24 250.70,245.24 250.70,253.77 251.80,253.77" fill="none" stroke="#555" stroke-width="0.7" stroke-linejoin="round"/>
<polyline points="250.70,249.50 247.70,249.50 247.70,262.30 251.80,262.30" fill="none" stroke="#555" stroke-width="0.7" stroke-linejoin="round"/>
<polyline points="247.70,255.50 242.90,255.50 242.90,275.20 248.30,275.20" fill="none" stroke="#555" stroke-width="0.7" stroke-linejoin="round"/>
<polyline points="251.80,270.83 248.30,270.83 248.30,279.36 251.80,279.36" fill="none" stroke="#555" stroke-width="0.7" stroke-linejoin="round"/>
<polyline points="242.90,265.00 239.90,265.00" fill="none" stroke="#555" stroke-width="0.7" stroke-linejoin="round"/>
<polyline points="251.80,330.54 251.00,330.54 251.00,339.07 251.80,339.07" fill="none" stroke="#555" stroke-width="0.7" stroke-linejoin="round"/>
<polyline points="251.80,322.01 250.30,322.01 250.30,334.81 251.00,334.81" fill="none" stroke="#555" stroke-width="0.7" stroke-linejoin="round"/>
<polyline points="251.80,313.48 249.50,313.48 249.50,328.41 250.30,328.41" fill="none" stroke="#555" stroke-width="0.7" stroke-linejoin="round"/>
<polyline points="251.80,304.95 248.60,304.95 248.60,320.94 249.50,320.94" fill="none" stroke="#555" stroke-width="0.7" stroke-linejoin="round"/>
<polyline points="251.80,296.42 247.60,296.42 247.60,312.95 248.60,312.95" fill="none" stroke="#555" stroke-width="0.7" stroke-linejoin="round"/>
<polyline points="251.80,287.89 245.50,287.89 245.50,304.68 247.60,304.68" fill="none" stroke="#555" stroke-width="0.7" stroke-linejoin="round"/>
<polyline points="245.50,296.29 239.90,296.29" fill="none" stroke="#555" stroke-width="0.7" stroke-linejoin="round"/>
<text x="459.60" y="241.30" font-size="5.75" text-anchor="start" font-weight="bold" fill="#000">log<tspan font-size="3.6" dy="1.2">2</tspan><tspan dy="-1.2">(Counts)</tspan></text>
<defs><linearGradient id="lg" x1="0" y1="0" x2="0" y2="1"><stop offset="0" stop-color="#ff0000"/><stop offset="0.5" stop-color="#ff7a5e"/><stop offset="1" stop-color="#ffffff"/></linearGradient></defs>
<rect x="458.20" y="244.30" width="7.20" height="32.00" fill="url(#lg)"/>
<text x="467.20" y="247.80" font-size="5.4" text-anchor="start" font-weight="normal" fill="#222">8</text>
<text x="467.20" y="255.80" font-size="5.4" text-anchor="start" font-weight="normal" fill="#222">6</text>
<text x="467.20" y="263.70" font-size="5.4" text-anchor="start" font-weight="normal" fill="#222">4</text>
<text x="467.20" y="271.70" font-size="5.4" text-anchor="start" font-weight="normal" fill="#222">2</text>
<text x="467.20" y="279.70" font-size="5.4" text-anchor="start" font-weight="normal" fill="#222">0</text>
<text x="497.00" y="241.30" font-size="5.8" text-anchor="start" font-weight="bold" fill="#000">Antigen</text>
<rect x="497.20" y="244.60" width="6.40" height="5.90" fill="#66c8a8"/>
<text x="505.20" y="249.20" font-size="5.4" text-anchor="start" font-weight="normal" fill="#222">3C</text>
<rect x="497.20" y="251.40" width="6.40" height="5.90" fill="#800000"/>
<text x="505.20" y="256.00" font-size="5.4" text-anchor="start" font-weight="normal" fill="#222">3C2V</text>
<rect x="497.20" y="258.10" width="6.40" height="5.90" fill="#8b008b"/>
<text x="505.20" y="262.70" font-size="5.4" text-anchor="start" font-weight="normal" fill="#222">3M</text>
</svg>
</body></html>
